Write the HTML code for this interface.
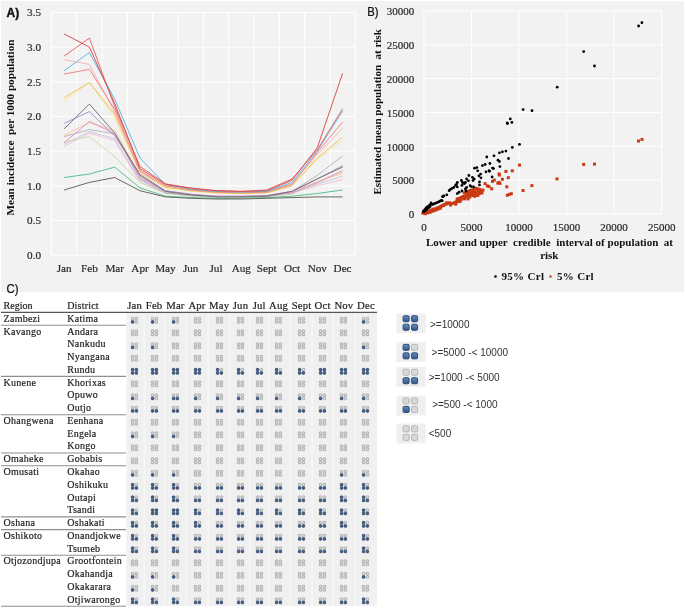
<!DOCTYPE html>
<html><head><meta charset="utf-8"><title>Figure</title>
<style>
html,body{margin:0;padding:0;background:#fff;}
body{width:685px;height:608px;position:relative;overflow:hidden;}
#bg{position:absolute;left:1px;top:1px;width:683px;height:291px;background:#f2f2f2;}
svg text{white-space:pre;}
</style></head><body>
<div id="bg"></div>
<svg width="362" height="291" viewBox="0 0 362 291" style="position:absolute;left:0;top:0"><line x1="51.4" y1="255.2" x2="355.3" y2="255.2" stroke="#ffffff" stroke-width="1"/><line x1="51.4" y1="220.5" x2="355.3" y2="220.5" stroke="#ffffff" stroke-width="1"/><line x1="51.4" y1="185.8" x2="355.3" y2="185.8" stroke="#ffffff" stroke-width="1"/><line x1="51.4" y1="151.1" x2="355.3" y2="151.1" stroke="#ffffff" stroke-width="1"/><line x1="51.4" y1="116.5" x2="355.3" y2="116.5" stroke="#ffffff" stroke-width="1"/><line x1="51.4" y1="81.8" x2="355.3" y2="81.8" stroke="#ffffff" stroke-width="1"/><line x1="51.4" y1="47.1" x2="355.3" y2="47.1" stroke="#ffffff" stroke-width="1"/><line x1="51.4" y1="12.4" x2="355.3" y2="12.4" stroke="#ffffff" stroke-width="1"/><line x1="51.4" y1="12.4" x2="51.4" y2="255.2" stroke="#ffffff" stroke-width="1"/><line x1="76.7" y1="12.4" x2="76.7" y2="255.2" stroke="#ffffff" stroke-width="1"/><line x1="102.1" y1="12.4" x2="102.1" y2="255.2" stroke="#ffffff" stroke-width="1"/><line x1="127.4" y1="12.4" x2="127.4" y2="255.2" stroke="#ffffff" stroke-width="1"/><line x1="152.7" y1="12.4" x2="152.7" y2="255.2" stroke="#ffffff" stroke-width="1"/><line x1="178.0" y1="12.4" x2="178.0" y2="255.2" stroke="#ffffff" stroke-width="1"/><line x1="203.4" y1="12.4" x2="203.4" y2="255.2" stroke="#ffffff" stroke-width="1"/><line x1="228.7" y1="12.4" x2="228.7" y2="255.2" stroke="#ffffff" stroke-width="1"/><line x1="254.0" y1="12.4" x2="254.0" y2="255.2" stroke="#ffffff" stroke-width="1"/><line x1="279.3" y1="12.4" x2="279.3" y2="255.2" stroke="#ffffff" stroke-width="1"/><line x1="304.7" y1="12.4" x2="304.7" y2="255.2" stroke="#ffffff" stroke-width="1"/><line x1="330.0" y1="12.4" x2="330.0" y2="255.2" stroke="#ffffff" stroke-width="1"/><line x1="355.3" y1="12.4" x2="355.3" y2="255.2" stroke="#ffffff" stroke-width="1"/><polyline points="64.1,146.3 89.4,133.1 114.7,140.7 140.0,182.4 165.4,192.8 190.7,195.5 216.0,196.9 241.3,196.9 266.7,196.2 292.0,192.8 317.3,185.8 342.6,179.6" fill="none" stroke="#f5c0d0" stroke-width="0.95" stroke-linejoin="round"/><polyline points="64.1,142.1 89.4,136.6 114.7,156.7 140.0,182.4 165.4,193.5 190.7,196.2 216.0,197.6 241.3,197.6 266.7,196.9 292.0,194.2 317.3,183.1 342.6,172.0" fill="none" stroke="#cdd9a8" stroke-width="0.95" stroke-linejoin="round"/><polyline points="64.1,144.2 89.4,131.7 114.7,138.7 140.0,180.3 165.4,192.8 190.7,195.5 216.0,196.9 241.3,196.9 266.7,196.2 292.0,192.8 317.3,184.4 342.6,176.1" fill="none" stroke="#c4c8e6" stroke-width="0.95" stroke-linejoin="round"/><polyline points="64.1,136.6 89.4,129.6 114.7,133.8 140.0,178.9 165.4,192.8 190.7,195.5 216.0,196.9 241.3,196.9 266.7,196.2 292.0,191.4 317.3,175.4 342.6,156.0" fill="none" stroke="#b4b4b4" stroke-width="0.95" stroke-linejoin="round"/><polyline points="64.1,135.2 89.4,122.7 114.7,130.3 140.0,175.4 165.4,190.7 190.7,194.2 216.0,196.2 241.3,196.2 266.7,195.5 292.0,191.4 317.3,181.7 342.6,173.3" fill="none" stroke="#f5c89a" stroke-width="0.95" stroke-linejoin="round"/><polyline points="64.1,142.8 89.4,121.3 114.7,133.8 140.0,177.5 165.4,191.4 190.7,194.8 216.0,196.2 241.3,196.9 266.7,196.2 292.0,192.8 317.3,182.4 342.6,170.6" fill="none" stroke="#e58ac8" stroke-width="0.95" stroke-linejoin="round"/><polyline points="64.1,123.4 89.4,111.6 114.7,135.9 140.0,174.0 165.4,190.7 190.7,194.2 216.0,196.2 241.3,196.2 266.7,195.5 292.0,191.4 317.3,178.9 342.6,165.7" fill="none" stroke="#a88ccc" stroke-width="0.95" stroke-linejoin="round"/><polyline points="64.1,128.9 89.4,104.0 114.7,133.1 140.0,175.4 165.4,191.4 190.7,194.8 216.0,196.9 241.3,196.9 266.7,196.2 292.0,191.4 317.3,178.9 342.6,167.1" fill="none" stroke="#707070" stroke-width="0.95" stroke-linejoin="round"/><polyline points="64.1,101.2 89.4,82.5 114.7,117.8 140.0,173.3 165.4,187.9 190.7,191.4 216.0,192.8 241.3,193.5 266.7,192.8 292.0,185.8 317.3,159.5 342.6,140.7" fill="none" stroke="#f0eaa0" stroke-width="0.95" stroke-linejoin="round"/><polyline points="64.1,97.7 89.4,82.5 114.7,114.4 140.0,172.0 165.4,187.2 190.7,190.7 216.0,192.8 241.3,193.5 266.7,192.8 292.0,185.8 317.3,158.1 342.6,137.3" fill="none" stroke="#f0c050" stroke-width="0.95" stroke-linejoin="round"/><polyline points="64.1,59.6 89.4,64.4 114.7,112.3 140.0,172.0 165.4,185.8 190.7,189.3 216.0,191.4 241.3,192.1 266.7,191.4 292.0,183.7 317.3,154.6 342.6,128.3" fill="none" stroke="#f4b8b0" stroke-width="0.95" stroke-linejoin="round"/><polyline points="64.1,74.1 89.4,69.3 114.7,109.5 140.0,170.6 165.4,185.8 190.7,190.0 216.0,192.1 241.3,192.8 266.7,192.1 292.0,184.4 317.3,152.5 342.6,122.0" fill="none" stroke="#f08080" stroke-width="0.95" stroke-linejoin="round"/><polyline points="64.1,70.7 89.4,52.6 114.7,99.1 140.0,158.1 165.4,184.4 190.7,189.3 216.0,191.4 241.3,192.1 266.7,191.4 292.0,182.4 317.3,151.1 342.6,110.9" fill="none" stroke="#5cb8e0" stroke-width="0.95" stroke-linejoin="round"/><polyline points="64.1,56.1 89.4,38.1 114.7,106.7 140.0,166.4 165.4,183.7 190.7,188.6 216.0,190.7 241.3,191.4 266.7,190.0 292.0,178.9 317.3,149.8 342.6,108.8" fill="none" stroke="#e86060" stroke-width="0.95" stroke-linejoin="round"/><polyline points="64.1,33.9 89.4,47.1 114.7,103.3 140.0,168.5 165.4,184.4 190.7,187.9 216.0,190.7 241.3,191.4 266.7,190.7 292.0,180.3 317.3,147.7 342.6,73.4" fill="none" stroke="#d64b4b" stroke-width="0.95" stroke-linejoin="round"/><polyline points="64.1,177.5 89.4,174.0 114.7,167.1 140.0,187.9 165.4,196.2 190.7,197.6 216.0,198.3 241.3,198.3 266.7,197.6 292.0,196.2 317.3,193.5 342.6,190.0" fill="none" stroke="#50c08a" stroke-width="0.95" stroke-linejoin="round"/><polyline points="64.1,190.0 89.4,182.4 114.7,177.5 140.0,190.7 165.4,196.9 190.7,198.3 216.0,199.0 241.3,199.0 266.7,198.3 292.0,197.6 317.3,196.9 342.6,196.9" fill="none" stroke="#606058" stroke-width="0.95" stroke-linejoin="round"/><text x="41.1" y="258.9" text-anchor="end" font-family='"Liberation Serif", "Times New Roman", serif' font-size="11.2" fill="#2a2a2a" stroke="#2a2a2a" stroke-width="0.2">0.0</text><text x="41.1" y="224.2" text-anchor="end" font-family='"Liberation Serif", "Times New Roman", serif' font-size="11.2" fill="#2a2a2a" stroke="#2a2a2a" stroke-width="0.2">0.5</text><text x="41.1" y="189.5" text-anchor="end" font-family='"Liberation Serif", "Times New Roman", serif' font-size="11.2" fill="#2a2a2a" stroke="#2a2a2a" stroke-width="0.2">1.0</text><text x="41.1" y="154.8" text-anchor="end" font-family='"Liberation Serif", "Times New Roman", serif' font-size="11.2" fill="#2a2a2a" stroke="#2a2a2a" stroke-width="0.2">1.5</text><text x="41.1" y="120.2" text-anchor="end" font-family='"Liberation Serif", "Times New Roman", serif' font-size="11.2" fill="#2a2a2a" stroke="#2a2a2a" stroke-width="0.2">2.0</text><text x="41.1" y="85.5" text-anchor="end" font-family='"Liberation Serif", "Times New Roman", serif' font-size="11.2" fill="#2a2a2a" stroke="#2a2a2a" stroke-width="0.2">2.5</text><text x="41.1" y="50.8" text-anchor="end" font-family='"Liberation Serif", "Times New Roman", serif' font-size="11.2" fill="#2a2a2a" stroke="#2a2a2a" stroke-width="0.2">3.0</text><text x="41.1" y="16.1" text-anchor="end" font-family='"Liberation Serif", "Times New Roman", serif' font-size="11.2" fill="#2a2a2a" stroke="#2a2a2a" stroke-width="0.2">3.5</text><text x="64.1" y="272" text-anchor="middle" font-family='"Liberation Serif", "Times New Roman", serif' font-size="11.2" fill="#2a2a2a" stroke="#2a2a2a" stroke-width="0.2">Jan</text><text x="89.4" y="272" text-anchor="middle" font-family='"Liberation Serif", "Times New Roman", serif' font-size="11.2" fill="#2a2a2a" stroke="#2a2a2a" stroke-width="0.2">Feb</text><text x="114.7" y="272" text-anchor="middle" font-family='"Liberation Serif", "Times New Roman", serif' font-size="11.2" fill="#2a2a2a" stroke="#2a2a2a" stroke-width="0.2">Mar</text><text x="140.0" y="272" text-anchor="middle" font-family='"Liberation Serif", "Times New Roman", serif' font-size="11.2" fill="#2a2a2a" stroke="#2a2a2a" stroke-width="0.2">Apr</text><text x="165.4" y="272" text-anchor="middle" font-family='"Liberation Serif", "Times New Roman", serif' font-size="11.2" fill="#2a2a2a" stroke="#2a2a2a" stroke-width="0.2">May</text><text x="190.7" y="272" text-anchor="middle" font-family='"Liberation Serif", "Times New Roman", serif' font-size="11.2" fill="#2a2a2a" stroke="#2a2a2a" stroke-width="0.2">Jun</text><text x="216.0" y="272" text-anchor="middle" font-family='"Liberation Serif", "Times New Roman", serif' font-size="11.2" fill="#2a2a2a" stroke="#2a2a2a" stroke-width="0.2">Jul</text><text x="241.3" y="272" text-anchor="middle" font-family='"Liberation Serif", "Times New Roman", serif' font-size="11.2" fill="#2a2a2a" stroke="#2a2a2a" stroke-width="0.2">Aug</text><text x="266.7" y="272" text-anchor="middle" font-family='"Liberation Serif", "Times New Roman", serif' font-size="11.2" fill="#2a2a2a" stroke="#2a2a2a" stroke-width="0.2">Sept</text><text x="292.0" y="272" text-anchor="middle" font-family='"Liberation Serif", "Times New Roman", serif' font-size="11.2" fill="#2a2a2a" stroke="#2a2a2a" stroke-width="0.2">Oct</text><text x="317.3" y="272" text-anchor="middle" font-family='"Liberation Serif", "Times New Roman", serif' font-size="11.2" fill="#2a2a2a" stroke="#2a2a2a" stroke-width="0.2">Nov</text><text x="342.6" y="272" text-anchor="middle" font-family='"Liberation Serif", "Times New Roman", serif' font-size="11.2" fill="#2a2a2a" stroke="#2a2a2a" stroke-width="0.2">Dec</text><text transform="translate(14.4,127.5) rotate(-90)" text-anchor="middle" font-family='"Liberation Serif", "Times New Roman", serif' font-weight="bold" font-size="11.2" fill="#111">Mean incidence  per 1000 population</text><text transform="translate(6.6,16.9) scale(0.98,1)" font-family='"Liberation Sans", Arial, sans-serif' font-weight="bold" font-size="12.2" fill="#111" stroke="#111" stroke-width="0.35">A)</text></svg>
<svg width="323" height="291" viewBox="362 0 323 291" style="position:absolute;left:362px;top:0"><line x1="423.9" y1="214.0" x2="661.7" y2="214.0" stroke="#ffffff" stroke-width="1"/><line x1="423.9" y1="180.2" x2="661.7" y2="180.2" stroke="#ffffff" stroke-width="1"/><line x1="423.9" y1="146.4" x2="661.7" y2="146.4" stroke="#ffffff" stroke-width="1"/><line x1="423.9" y1="112.5" x2="661.7" y2="112.5" stroke="#ffffff" stroke-width="1"/><line x1="423.9" y1="78.7" x2="661.7" y2="78.7" stroke="#ffffff" stroke-width="1"/><line x1="423.9" y1="44.9" x2="661.7" y2="44.9" stroke="#ffffff" stroke-width="1"/><line x1="423.9" y1="11.1" x2="661.7" y2="11.1" stroke="#ffffff" stroke-width="1"/><line x1="423.9" y1="11.1" x2="423.9" y2="214.0" stroke="#ffffff" stroke-width="1"/><line x1="471.5" y1="11.1" x2="471.5" y2="214.0" stroke="#ffffff" stroke-width="1"/><line x1="519.0" y1="11.1" x2="519.0" y2="214.0" stroke="#ffffff" stroke-width="1"/><line x1="566.6" y1="11.1" x2="566.6" y2="214.0" stroke="#ffffff" stroke-width="1"/><line x1="614.1" y1="11.1" x2="614.1" y2="214.0" stroke="#ffffff" stroke-width="1"/><line x1="661.7" y1="11.1" x2="661.7" y2="214.0" stroke="#ffffff" stroke-width="1"/><rect x="637.0" y="139.5" width="3" height="3" fill="#c83a14"/><rect x="640.5" y="137.9" width="3" height="3" fill="#c83a14"/><rect x="582.2" y="162.9" width="3" height="3" fill="#c83a14"/><rect x="593.0" y="162.6" width="3" height="3" fill="#c83a14"/><rect x="555.5" y="177.4" width="3" height="3" fill="#c83a14"/><rect x="530.4" y="184.1" width="3" height="3" fill="#c83a14"/><rect x="521.6" y="189.0" width="3" height="3" fill="#c83a14"/><rect x="518.0" y="163.6" width="3" height="3" fill="#c83a14"/><rect x="510.8" y="169.3" width="3" height="3" fill="#c83a14"/><rect x="504.4" y="169.9" width="3" height="3" fill="#c83a14"/><rect x="497.9" y="173.5" width="3" height="3" fill="#c83a14"/><rect x="506.8" y="176.2" width="3" height="3" fill="#c83a14"/><rect x="500.9" y="177.8" width="3" height="3" fill="#c83a14"/><rect x="497.5" y="180.9" width="3" height="3" fill="#c83a14"/><rect x="498.4" y="181.9" width="3" height="3" fill="#c83a14"/><rect x="505.3" y="185.3" width="3" height="3" fill="#c83a14"/><rect x="505.8" y="193.7" width="3" height="3" fill="#c83a14"/><rect x="507.8" y="192.9" width="3" height="3" fill="#c83a14"/><rect x="509.8" y="192.2" width="3" height="3" fill="#c83a14"/><rect x="497.6" y="172.4" width="3" height="3" fill="#c83a14"/><rect x="491.0" y="179.9" width="3" height="3" fill="#c83a14"/><rect x="492.8" y="178.6" width="3" height="3" fill="#c83a14"/><rect x="496.3" y="181.6" width="3" height="3" fill="#c83a14"/><rect x="483.6" y="182.1" width="3" height="3" fill="#c83a14"/><rect x="485.8" y="184.3" width="3" height="3" fill="#c83a14"/><rect x="487.5" y="185.1" width="3" height="3" fill="#c83a14"/><rect x="490.2" y="187.3" width="3" height="3" fill="#c83a14"/><rect x="475.3" y="187.3" width="3" height="3" fill="#c83a14"/><rect x="477.5" y="189.1" width="3" height="3" fill="#c83a14"/><rect x="479.7" y="190.0" width="3" height="3" fill="#c83a14"/><rect x="477.9" y="192.1" width="3" height="3" fill="#c83a14"/><rect x="476.2" y="193.9" width="3" height="3" fill="#c83a14"/><rect x="471.8" y="189.5" width="3" height="3" fill="#c83a14"/><rect x="470.9" y="191.7" width="3" height="3" fill="#c83a14"/><rect x="470.5" y="193.9" width="3" height="3" fill="#c83a14"/><rect x="468.3" y="195.6" width="3" height="3" fill="#c83a14"/><rect x="465.6" y="193.9" width="3" height="3" fill="#c83a14"/><rect x="464.3" y="195.6" width="3" height="3" fill="#c83a14"/><rect x="463.0" y="197.4" width="3" height="3" fill="#c83a14"/><rect x="461.3" y="196.5" width="3" height="3" fill="#c83a14"/><rect x="459.5" y="198.3" width="3" height="3" fill="#c83a14"/><rect x="457.3" y="199.6" width="3" height="3" fill="#c83a14"/><rect x="456.0" y="197.4" width="3" height="3" fill="#c83a14"/><rect x="455.1" y="200.5" width="3" height="3" fill="#c83a14"/><rect x="453.4" y="200.9" width="3" height="3" fill="#c83a14"/><rect x="451.6" y="201.8" width="3" height="3" fill="#c83a14"/><rect x="449.9" y="202.2" width="3" height="3" fill="#c83a14"/><rect x="448.1" y="201.3" width="3" height="3" fill="#c83a14"/><rect x="446.4" y="201.8" width="3" height="3" fill="#c83a14"/><rect x="444.6" y="202.7" width="3" height="3" fill="#c83a14"/><rect x="442.9" y="203.1" width="3" height="3" fill="#c83a14"/><rect x="441.1" y="204.0" width="3" height="3" fill="#c83a14"/><rect x="439.4" y="204.8" width="3" height="3" fill="#c83a14"/><rect x="449.0" y="203.5" width="3" height="3" fill="#c83a14"/><rect x="454.3" y="202.7" width="3" height="3" fill="#c83a14"/><rect x="458.6" y="200.0" width="3" height="3" fill="#c83a14"/><rect x="466.5" y="197.4" width="3" height="3" fill="#c83a14"/><rect x="474.4" y="192.1" width="3" height="3" fill="#c83a14"/><rect x="473.1" y="194.8" width="3" height="3" fill="#c83a14"/><rect x="421.4" y="211.7" width="3" height="3" fill="#c83a14"/><rect x="422.4" y="211.2" width="3" height="3" fill="#c83a14"/><rect x="424.4" y="210.2" width="3" height="3" fill="#c83a14"/><rect x="426.4" y="209.7" width="3" height="3" fill="#c83a14"/><rect x="428.8" y="208.7" width="3" height="3" fill="#c83a14"/><rect x="431.3" y="207.7" width="3" height="3" fill="#c83a14"/><rect x="433.8" y="207.2" width="3" height="3" fill="#c83a14"/><rect x="436.2" y="206.2" width="3" height="3" fill="#c83a14"/><rect x="438.7" y="205.5" width="3" height="3" fill="#c83a14"/><rect x="441.2" y="204.3" width="3" height="3" fill="#c83a14"/><rect x="442.2" y="203.8" width="3" height="3" fill="#c83a14"/><rect x="445.1" y="201.3" width="3" height="3" fill="#c83a14"/><rect x="423.9" y="212.2" width="3" height="3" fill="#c83a14"/><rect x="426.4" y="211.4" width="3" height="3" fill="#c83a14"/><rect x="428.8" y="210.7" width="3" height="3" fill="#c83a14"/><rect x="431.3" y="209.7" width="3" height="3" fill="#c83a14"/><rect x="433.8" y="208.8" width="3" height="3" fill="#c83a14"/><rect x="436.2" y="207.8" width="3" height="3" fill="#c83a14"/><rect x="438.7" y="206.8" width="3" height="3" fill="#c83a14"/><rect x="462.8" y="191.5" width="3" height="3" fill="#c83a14"/><rect x="464.5" y="190.5" width="3" height="3" fill="#c83a14"/><rect x="466.5" y="190.0" width="3" height="3" fill="#c83a14"/><rect x="468.5" y="189.0" width="3" height="3" fill="#c83a14"/><rect x="470.5" y="188.5" width="3" height="3" fill="#c83a14"/><rect x="472.5" y="188.0" width="3" height="3" fill="#c83a14"/><rect x="475.0" y="186.9" width="3" height="3" fill="#c83a14"/><rect x="476.5" y="187.5" width="3" height="3" fill="#c83a14"/><rect x="478.5" y="188.0" width="3" height="3" fill="#c83a14"/><rect x="481.5" y="188.6" width="3" height="3" fill="#c83a14"/><rect x="464.5" y="193.5" width="3" height="3" fill="#c83a14"/><rect x="466.5" y="192.5" width="3" height="3" fill="#c83a14"/><rect x="468.5" y="192.0" width="3" height="3" fill="#c83a14"/><rect x="470.5" y="191.5" width="3" height="3" fill="#c83a14"/><rect x="472.5" y="191.0" width="3" height="3" fill="#c83a14"/><rect x="474.5" y="190.5" width="3" height="3" fill="#c83a14"/><rect x="476.5" y="190.5" width="3" height="3" fill="#c83a14"/><rect x="478.5" y="191.0" width="3" height="3" fill="#c83a14"/><rect x="480.5" y="191.5" width="3" height="3" fill="#c83a14"/><rect x="455.5" y="198.0" width="3" height="3" fill="#c83a14"/><rect x="457.5" y="197.0" width="3" height="3" fill="#c83a14"/><rect x="459.5" y="196.0" width="3" height="3" fill="#c83a14"/><rect x="461.5" y="195.0" width="3" height="3" fill="#c83a14"/><rect x="463.5" y="195.0" width="3" height="3" fill="#c83a14"/><rect x="465.5" y="194.5" width="3" height="3" fill="#c83a14"/><rect x="467.5" y="194.0" width="3" height="3" fill="#c83a14"/><rect x="469.5" y="194.0" width="3" height="3" fill="#c83a14"/><rect x="471.5" y="194.0" width="3" height="3" fill="#c83a14"/><rect x="473.5" y="194.0" width="3" height="3" fill="#c83a14"/><rect x="476.2" y="193.9" width="3" height="3" fill="#c83a14"/><circle cx="638.6" cy="26.0" r="1.4" fill="#000"/><circle cx="641.9" cy="22.7" r="1.4" fill="#000"/><circle cx="583.7" cy="51.6" r="1.4" fill="#000"/><circle cx="594.5" cy="66.0" r="1.4" fill="#000"/><circle cx="557.2" cy="87.2" r="1.4" fill="#000"/><circle cx="523.1" cy="109.6" r="1.4" fill="#000"/><circle cx="532.0" cy="110.7" r="1.4" fill="#000"/><circle cx="507.2" cy="123.0" r="1.4" fill="#000"/><circle cx="510.3" cy="118.9" r="1.4" fill="#000"/><circle cx="511.9" cy="122.4" r="1.4" fill="#000"/><circle cx="507.5" cy="123.6" r="1.4" fill="#000"/><circle cx="519.5" cy="144.4" r="1.4" fill="#000"/><circle cx="512.3" cy="147.4" r="1.4" fill="#000"/><circle cx="505.9" cy="151.1" r="1.4" fill="#000"/><circle cx="502.4" cy="151.8" r="1.4" fill="#000"/><circle cx="499.4" cy="152.8" r="1.4" fill="#000"/><circle cx="494.0" cy="155.8" r="1.4" fill="#000"/><circle cx="486.8" cy="157.0" r="1.4" fill="#000"/><circle cx="508.5" cy="158.5" r="1.4" fill="#000"/><circle cx="498.0" cy="160.2" r="1.4" fill="#000"/><circle cx="499.4" cy="161.5" r="1.4" fill="#000"/><circle cx="489.9" cy="163.5" r="1.4" fill="#000"/><circle cx="485.1" cy="164.5" r="1.4" fill="#000"/><circle cx="499.9" cy="166.6" r="1.4" fill="#000"/><circle cx="493.5" cy="168.6" r="1.4" fill="#000"/><circle cx="492.5" cy="168.1" r="1.4" fill="#000"/><circle cx="489.1" cy="170.6" r="1.4" fill="#000"/><circle cx="486.0" cy="171.8" r="1.4" fill="#000"/><circle cx="489.5" cy="171.3" r="1.4" fill="#000"/><circle cx="492.1" cy="177.0" r="1.4" fill="#000"/><circle cx="443.9" cy="195.8" r="1.4" fill="#000"/><circle cx="442.6" cy="196.7" r="1.4" fill="#000"/><circle cx="440.9" cy="200.6" r="1.4" fill="#000"/><circle cx="442.9" cy="196.6" r="1.4" fill="#000"/><circle cx="423.4" cy="211.2" r="1.4" fill="#000"/><circle cx="424.4" cy="210.2" r="1.4" fill="#000"/><circle cx="425.4" cy="209.0" r="1.4" fill="#000"/><circle cx="426.4" cy="207.7" r="1.4" fill="#000"/><circle cx="427.4" cy="207.0" r="1.4" fill="#000"/><circle cx="428.4" cy="206.3" r="1.4" fill="#000"/><circle cx="429.7" cy="205.0" r="1.4" fill="#000"/><circle cx="431.1" cy="203.0" r="1.4" fill="#000"/><circle cx="432.0" cy="204.5" r="1.4" fill="#000"/><circle cx="432.8" cy="204.3" r="1.4" fill="#000"/><circle cx="434.0" cy="203.8" r="1.4" fill="#000"/><circle cx="435.3" cy="203.3" r="1.4" fill="#000"/><circle cx="436.5" cy="202.8" r="1.4" fill="#000"/><circle cx="437.7" cy="202.3" r="1.4" fill="#000"/><circle cx="439.0" cy="201.7" r="1.4" fill="#000"/><circle cx="440.2" cy="201.1" r="1.4" fill="#000"/><circle cx="441.7" cy="200.6" r="1.4" fill="#000"/><circle cx="442.2" cy="200.8" r="1.4" fill="#000"/><circle cx="424.0" cy="211.8" r="1.4" fill="#000"/><circle cx="425.5" cy="210.5" r="1.4" fill="#000"/><circle cx="427.0" cy="209.0" r="1.4" fill="#000"/><circle cx="428.5" cy="207.8" r="1.4" fill="#000"/><circle cx="430.0" cy="206.5" r="1.4" fill="#000"/><circle cx="482.4" cy="165.6" r="1.4" fill="#000"/><circle cx="474.5" cy="168.2" r="1.4" fill="#000"/><circle cx="476.8" cy="167.6" r="1.4" fill="#000"/><circle cx="477.7" cy="170.8" r="1.4" fill="#000"/><circle cx="480.6" cy="174.1" r="1.4" fill="#000"/><circle cx="478.9" cy="175.8" r="1.4" fill="#000"/><circle cx="480.9" cy="177.8" r="1.4" fill="#000"/><circle cx="479.5" cy="181.9" r="1.4" fill="#000"/><circle cx="479.5" cy="184.9" r="1.4" fill="#000"/><circle cx="468.9" cy="175.5" r="1.4" fill="#000"/><circle cx="472.4" cy="177.3" r="1.4" fill="#000"/><circle cx="474.2" cy="179.0" r="1.4" fill="#000"/><circle cx="473.0" cy="180.5" r="1.4" fill="#000"/><circle cx="466.6" cy="179.0" r="1.4" fill="#000"/><circle cx="468.4" cy="180.8" r="1.4" fill="#000"/><circle cx="465.4" cy="182.5" r="1.4" fill="#000"/><circle cx="464.3" cy="183.7" r="1.4" fill="#000"/><circle cx="461.4" cy="180.5" r="1.4" fill="#000"/><circle cx="462.5" cy="182.5" r="1.4" fill="#000"/><circle cx="461.9" cy="185.4" r="1.4" fill="#000"/><circle cx="457.3" cy="182.5" r="1.4" fill="#000"/><circle cx="456.4" cy="184.3" r="1.4" fill="#000"/><circle cx="455.5" cy="185.4" r="1.4" fill="#000"/><circle cx="457.3" cy="186.9" r="1.4" fill="#000"/><circle cx="453.8" cy="187.5" r="1.4" fill="#000"/><circle cx="452.0" cy="188.4" r="1.4" fill="#000"/><circle cx="450.3" cy="189.5" r="1.4" fill="#000"/><circle cx="449.1" cy="190.7" r="1.4" fill="#000"/><circle cx="470.1" cy="185.7" r="1.4" fill="#000"/><circle cx="471.3" cy="186.6" r="1.4" fill="#000"/><circle cx="473.6" cy="186.9" r="1.4" fill="#000"/><circle cx="466.6" cy="187.5" r="1.4" fill="#000"/><circle cx="465.4" cy="188.9" r="1.4" fill="#000"/><circle cx="466.0" cy="191.0" r="1.4" fill="#000"/><circle cx="461.9" cy="191.0" r="1.4" fill="#000"/><circle cx="459.0" cy="192.2" r="1.4" fill="#000"/><circle cx="457.3" cy="193.6" r="1.4" fill="#000"/><circle cx="446.8" cy="194.8" r="1.4" fill="#000"/><text x="414.2" y="218.1" text-anchor="end" font-family='"Liberation Serif", "Times New Roman", serif' font-size="11" fill="#2a2a2a" stroke="#2a2a2a" stroke-width="0.2">0</text><text x="414.2" y="184.3" text-anchor="end" font-family='"Liberation Serif", "Times New Roman", serif' font-size="11" fill="#2a2a2a" stroke="#2a2a2a" stroke-width="0.2">5000</text><text x="414.2" y="150.5" text-anchor="end" font-family='"Liberation Serif", "Times New Roman", serif' font-size="11" fill="#2a2a2a" stroke="#2a2a2a" stroke-width="0.2">10000</text><text x="414.2" y="116.6" text-anchor="end" font-family='"Liberation Serif", "Times New Roman", serif' font-size="11" fill="#2a2a2a" stroke="#2a2a2a" stroke-width="0.2">15000</text><text x="414.2" y="82.8" text-anchor="end" font-family='"Liberation Serif", "Times New Roman", serif' font-size="11" fill="#2a2a2a" stroke="#2a2a2a" stroke-width="0.2">20000</text><text x="414.2" y="49.0" text-anchor="end" font-family='"Liberation Serif", "Times New Roman", serif' font-size="11" fill="#2a2a2a" stroke="#2a2a2a" stroke-width="0.2">25000</text><text x="414.2" y="15.2" text-anchor="end" font-family='"Liberation Serif", "Times New Roman", serif' font-size="11" fill="#2a2a2a" stroke="#2a2a2a" stroke-width="0.2">30000</text><text x="423.9" y="230.7" text-anchor="middle" font-family='"Liberation Serif", "Times New Roman", serif' font-size="11" fill="#2a2a2a" stroke="#2a2a2a" stroke-width="0.2">0</text><text x="471.5" y="230.7" text-anchor="middle" font-family='"Liberation Serif", "Times New Roman", serif' font-size="11" fill="#2a2a2a" stroke="#2a2a2a" stroke-width="0.2">5000</text><text x="519.0" y="230.7" text-anchor="middle" font-family='"Liberation Serif", "Times New Roman", serif' font-size="11" fill="#2a2a2a" stroke="#2a2a2a" stroke-width="0.2">10000</text><text x="566.6" y="230.7" text-anchor="middle" font-family='"Liberation Serif", "Times New Roman", serif' font-size="11" fill="#2a2a2a" stroke="#2a2a2a" stroke-width="0.2">15000</text><text x="614.1" y="230.7" text-anchor="middle" font-family='"Liberation Serif", "Times New Roman", serif' font-size="11" fill="#2a2a2a" stroke="#2a2a2a" stroke-width="0.2">20000</text><text x="661.7" y="230.7" text-anchor="middle" font-family='"Liberation Serif", "Times New Roman", serif' font-size="11" fill="#2a2a2a" stroke="#2a2a2a" stroke-width="0.2">25000</text><text x="549.5" y="246.3" text-anchor="middle" font-family='"Liberation Serif", "Times New Roman", serif' font-weight="bold" font-size="11" fill="#111" xml:space="preserve">Lower and upper  credible  interval of population  at</text><text x="549.3" y="259" text-anchor="middle" font-family='"Liberation Serif", "Times New Roman", serif' font-weight="bold" font-size="11" fill="#111">risk</text><text transform="translate(381,111.9) rotate(-90)" text-anchor="middle" font-family='"Liberation Serif", "Times New Roman", serif' font-weight="bold" font-size="11" fill="#111" xml:space="preserve">Estimated mean population  at risk</text><circle cx="495.5" cy="276.5" r="1.3" fill="#000"/><text x="501.5" y="279.7" font-family='"Liberation Serif", "Times New Roman", serif' font-weight="bold" font-size="11" letter-spacing="0.3" fill="#111">95% Crl</text><rect x="549.4" y="275.4" width="2.2" height="2.2" fill="#d42a20"/><text x="557" y="279.7" font-family='"Liberation Serif", "Times New Roman", serif' font-weight="bold" font-size="11" letter-spacing="0.3" fill="#111">5% Crl</text><text transform="translate(367.3,15.8) scale(0.93,1)" font-family='"Liberation Sans", Arial, sans-serif' font-size="12.2" fill="#111" stroke="#111" stroke-width="0.25">B)</text></svg>
<svg width="685" height="328" viewBox="0 280 685 328" style="position:absolute;left:0;top:280px"><style>.sb{fill:#46638f;stroke:#2a4265;stroke-width:0.8}.sg{fill:#e0e0e0;stroke:#a2a2a2;stroke-width:0.8}.Lb{fill:url(#gb);stroke:#274a78;stroke-width:1}.Lg{fill:#d9d9d9;stroke:#b5b5b5;stroke-width:1}</style><defs><linearGradient id="gb" x1="0" y1="0" x2="0" y2="1"><stop offset="0" stop-color="#6a8fc0"/><stop offset="1" stop-color="#2f5488"/></linearGradient></defs><rect x="126.5" y="313" width="250.5" height="293" fill="#f0f0f0"/><rect x="143.4" y="313" width="1.8" height="293" fill="#f6f6f6"/><rect x="163.8" y="313" width="1.8" height="293" fill="#f6f6f6"/><rect x="185.3" y="313" width="1.8" height="293" fill="#f6f6f6"/><rect x="207.2" y="313" width="1.8" height="293" fill="#f6f6f6"/><rect x="228.9" y="313" width="1.8" height="293" fill="#f6f6f6"/><rect x="248.9" y="313" width="1.8" height="293" fill="#f6f6f6"/><rect x="268.0" y="313" width="1.8" height="293" fill="#f6f6f6"/><rect x="289.2" y="313" width="1.8" height="293" fill="#f6f6f6"/><rect x="311.2" y="313" width="1.8" height="293" fill="#f6f6f6"/><rect x="332.4" y="313" width="1.8" height="293" fill="#f6f6f6"/><rect x="354.1" y="313" width="1.8" height="293" fill="#f6f6f6"/><text x="3.6" y="309.2" font-family='"Liberation Serif", "Times New Roman", serif' font-size="10" fill="#1e1e1e" stroke="#1e1e1e" stroke-width="0.2">Region</text><text x="67.2" y="309.2" font-family='"Liberation Serif", "Times New Roman", serif' font-size="10" letter-spacing="0.2" fill="#1e1e1e" stroke="#1e1e1e" stroke-width="0.2">District</text><text x="134.6" y="309.2" text-anchor="middle" font-family='"Liberation Serif", "Times New Roman", serif' font-size="10.7" letter-spacing="0.2" fill="#1e1e1e" stroke="#1e1e1e" stroke-width="0.2">Jan</text><text x="154.1" y="309.2" text-anchor="middle" font-family='"Liberation Serif", "Times New Roman", serif' font-size="10.7" letter-spacing="0.2" fill="#1e1e1e" stroke="#1e1e1e" stroke-width="0.2">Feb</text><text x="175.4" y="309.2" text-anchor="middle" font-family='"Liberation Serif", "Times New Roman", serif' font-size="10.7" letter-spacing="0.2" fill="#1e1e1e" stroke="#1e1e1e" stroke-width="0.2">Mar</text><text x="197.0" y="309.2" text-anchor="middle" font-family='"Liberation Serif", "Times New Roman", serif' font-size="10.7" letter-spacing="0.2" fill="#1e1e1e" stroke="#1e1e1e" stroke-width="0.2">Apr</text><text x="219.2" y="309.2" text-anchor="middle" font-family='"Liberation Serif", "Times New Roman", serif' font-size="10.7" letter-spacing="0.2" fill="#1e1e1e" stroke="#1e1e1e" stroke-width="0.2">May</text><text x="240.5" y="309.2" text-anchor="middle" font-family='"Liberation Serif", "Times New Roman", serif' font-size="10.7" letter-spacing="0.2" fill="#1e1e1e" stroke="#1e1e1e" stroke-width="0.2">Jun</text><text x="259.2" y="309.2" text-anchor="middle" font-family='"Liberation Serif", "Times New Roman", serif' font-size="10.7" letter-spacing="0.2" fill="#1e1e1e" stroke="#1e1e1e" stroke-width="0.2">Jul</text><text x="278.6" y="309.2" text-anchor="middle" font-family='"Liberation Serif", "Times New Roman", serif' font-size="10.7" letter-spacing="0.2" fill="#1e1e1e" stroke="#1e1e1e" stroke-width="0.2">Aug</text><text x="301.6" y="309.2" text-anchor="middle" font-family='"Liberation Serif", "Times New Roman", serif' font-size="10.7" letter-spacing="0.2" fill="#1e1e1e" stroke="#1e1e1e" stroke-width="0.2">Sept</text><text x="322.6" y="309.2" text-anchor="middle" font-family='"Liberation Serif", "Times New Roman", serif' font-size="10.7" letter-spacing="0.2" fill="#1e1e1e" stroke="#1e1e1e" stroke-width="0.2">Oct</text><text x="343.9" y="309.2" text-anchor="middle" font-family='"Liberation Serif", "Times New Roman", serif' font-size="10.7" letter-spacing="0.2" fill="#1e1e1e" stroke="#1e1e1e" stroke-width="0.2">Nov</text><text x="366.0" y="309.2" text-anchor="middle" font-family='"Liberation Serif", "Times New Roman", serif' font-size="10.7" letter-spacing="0.2" fill="#1e1e1e" stroke="#1e1e1e" stroke-width="0.2">Dec</text><line x1="1" y1="312.3" x2="377" y2="312.3" stroke="#555" stroke-width="1.2"/><text x="3.6" y="321.7" font-family='"Liberation Serif", "Times New Roman", serif' font-size="10" letter-spacing="0.25" fill="#1e1e1e" stroke="#1e1e1e" stroke-width="0.2">Zambezi</text><text x="67.3" y="321.7" font-family='"Liberation Serif", "Times New Roman", serif' font-size="10" letter-spacing="0.25" fill="#1e1e1e" stroke="#1e1e1e" stroke-width="0.2">Katima</text><rect class="sg" x="131.40" y="317.40" width="2.40" height="2.50" rx="0.4"/><rect class="sg" x="135.20" y="317.40" width="2.40" height="2.50" rx="0.4"/><rect class="sb" x="131.40" y="320.70" width="2.40" height="2.50" rx="0.4"/><rect class="sg" x="135.20" y="320.70" width="2.40" height="2.50" rx="0.4"/><rect class="sg" x="151.40" y="317.40" width="2.40" height="2.50" rx="0.4"/><rect class="sg" x="155.20" y="317.40" width="2.40" height="2.50" rx="0.4"/><rect class="sb" x="151.40" y="320.70" width="2.40" height="2.50" rx="0.4"/><rect class="sg" x="155.20" y="320.70" width="2.40" height="2.50" rx="0.4"/><rect class="sg" x="172.40" y="317.40" width="2.40" height="2.50" rx="0.4"/><rect class="sg" x="176.20" y="317.40" width="2.40" height="2.50" rx="0.4"/><rect class="sb" x="172.40" y="320.70" width="2.40" height="2.50" rx="0.4"/><rect class="sg" x="176.20" y="320.70" width="2.40" height="2.50" rx="0.4"/><rect class="sg" x="194.40" y="317.40" width="2.40" height="2.50" rx="0.4"/><rect class="sg" x="198.20" y="317.40" width="2.40" height="2.50" rx="0.4"/><rect class="sg" x="194.40" y="320.70" width="2.40" height="2.50" rx="0.4"/><rect class="sg" x="198.20" y="320.70" width="2.40" height="2.50" rx="0.4"/><rect class="sg" x="216.40" y="317.40" width="2.40" height="2.50" rx="0.4"/><rect class="sg" x="220.20" y="317.40" width="2.40" height="2.50" rx="0.4"/><rect class="sg" x="216.40" y="320.70" width="2.40" height="2.50" rx="0.4"/><rect class="sg" x="220.20" y="320.70" width="2.40" height="2.50" rx="0.4"/><rect class="sg" x="237.40" y="317.40" width="2.40" height="2.50" rx="0.4"/><rect class="sg" x="241.20" y="317.40" width="2.40" height="2.50" rx="0.4"/><rect class="sg" x="237.40" y="320.70" width="2.40" height="2.50" rx="0.4"/><rect class="sg" x="241.20" y="320.70" width="2.40" height="2.50" rx="0.4"/><rect class="sg" x="256.40" y="317.40" width="2.40" height="2.50" rx="0.4"/><rect class="sg" x="260.20" y="317.40" width="2.40" height="2.50" rx="0.4"/><rect class="sg" x="256.40" y="320.70" width="2.40" height="2.50" rx="0.4"/><rect class="sg" x="260.20" y="320.70" width="2.40" height="2.50" rx="0.4"/><rect class="sg" x="275.40" y="317.40" width="2.40" height="2.50" rx="0.4"/><rect class="sg" x="279.20" y="317.40" width="2.40" height="2.50" rx="0.4"/><rect class="sg" x="275.40" y="320.70" width="2.40" height="2.50" rx="0.4"/><rect class="sg" x="279.20" y="320.70" width="2.40" height="2.50" rx="0.4"/><rect class="sg" x="298.40" y="317.40" width="2.40" height="2.50" rx="0.4"/><rect class="sg" x="302.20" y="317.40" width="2.40" height="2.50" rx="0.4"/><rect class="sg" x="298.40" y="320.70" width="2.40" height="2.50" rx="0.4"/><rect class="sg" x="302.20" y="320.70" width="2.40" height="2.50" rx="0.4"/><rect class="sg" x="319.40" y="317.40" width="2.40" height="2.50" rx="0.4"/><rect class="sg" x="323.20" y="317.40" width="2.40" height="2.50" rx="0.4"/><rect class="sg" x="319.40" y="320.70" width="2.40" height="2.50" rx="0.4"/><rect class="sg" x="323.20" y="320.70" width="2.40" height="2.50" rx="0.4"/><rect class="sg" x="340.40" y="317.40" width="2.40" height="2.50" rx="0.4"/><rect class="sg" x="344.20" y="317.40" width="2.40" height="2.50" rx="0.4"/><rect class="sg" x="340.40" y="320.70" width="2.40" height="2.50" rx="0.4"/><rect class="sg" x="344.20" y="320.70" width="2.40" height="2.50" rx="0.4"/><rect class="sg" x="362.40" y="317.40" width="2.40" height="2.50" rx="0.4"/><rect class="sg" x="366.20" y="317.40" width="2.40" height="2.50" rx="0.4"/><rect class="sb" x="362.40" y="320.70" width="2.40" height="2.50" rx="0.4"/><rect class="sg" x="366.20" y="320.70" width="2.40" height="2.50" rx="0.4"/><text x="3.6" y="334.5" font-family='"Liberation Serif", "Times New Roman", serif' font-size="10" letter-spacing="0.25" fill="#1e1e1e" stroke="#1e1e1e" stroke-width="0.2">Kavango</text><text x="67.3" y="334.5" font-family='"Liberation Serif", "Times New Roman", serif' font-size="10" letter-spacing="0.25" fill="#1e1e1e" stroke="#1e1e1e" stroke-width="0.2">Andara</text><rect class="sg" x="131.40" y="329.90" width="2.40" height="2.50" rx="0.4"/><rect class="sg" x="135.20" y="329.90" width="2.40" height="2.50" rx="0.4"/><rect class="sg" x="131.40" y="333.20" width="2.40" height="2.50" rx="0.4"/><rect class="sg" x="135.20" y="333.20" width="2.40" height="2.50" rx="0.4"/><rect class="sg" x="151.40" y="329.90" width="2.40" height="2.50" rx="0.4"/><rect class="sg" x="155.20" y="329.90" width="2.40" height="2.50" rx="0.4"/><rect class="sg" x="151.40" y="333.20" width="2.40" height="2.50" rx="0.4"/><rect class="sg" x="155.20" y="333.20" width="2.40" height="2.50" rx="0.4"/><rect class="sg" x="172.40" y="329.90" width="2.40" height="2.50" rx="0.4"/><rect class="sg" x="176.20" y="329.90" width="2.40" height="2.50" rx="0.4"/><rect class="sg" x="172.40" y="333.20" width="2.40" height="2.50" rx="0.4"/><rect class="sg" x="176.20" y="333.20" width="2.40" height="2.50" rx="0.4"/><rect class="sg" x="194.40" y="329.90" width="2.40" height="2.50" rx="0.4"/><rect class="sg" x="198.20" y="329.90" width="2.40" height="2.50" rx="0.4"/><rect class="sg" x="194.40" y="333.20" width="2.40" height="2.50" rx="0.4"/><rect class="sg" x="198.20" y="333.20" width="2.40" height="2.50" rx="0.4"/><rect class="sg" x="216.40" y="329.90" width="2.40" height="2.50" rx="0.4"/><rect class="sg" x="220.20" y="329.90" width="2.40" height="2.50" rx="0.4"/><rect class="sg" x="216.40" y="333.20" width="2.40" height="2.50" rx="0.4"/><rect class="sg" x="220.20" y="333.20" width="2.40" height="2.50" rx="0.4"/><rect class="sg" x="237.40" y="329.90" width="2.40" height="2.50" rx="0.4"/><rect class="sg" x="241.20" y="329.90" width="2.40" height="2.50" rx="0.4"/><rect class="sg" x="237.40" y="333.20" width="2.40" height="2.50" rx="0.4"/><rect class="sg" x="241.20" y="333.20" width="2.40" height="2.50" rx="0.4"/><rect class="sg" x="256.40" y="329.90" width="2.40" height="2.50" rx="0.4"/><rect class="sg" x="260.20" y="329.90" width="2.40" height="2.50" rx="0.4"/><rect class="sg" x="256.40" y="333.20" width="2.40" height="2.50" rx="0.4"/><rect class="sg" x="260.20" y="333.20" width="2.40" height="2.50" rx="0.4"/><rect class="sg" x="275.40" y="329.90" width="2.40" height="2.50" rx="0.4"/><rect class="sg" x="279.20" y="329.90" width="2.40" height="2.50" rx="0.4"/><rect class="sg" x="275.40" y="333.20" width="2.40" height="2.50" rx="0.4"/><rect class="sg" x="279.20" y="333.20" width="2.40" height="2.50" rx="0.4"/><rect class="sg" x="298.40" y="329.90" width="2.40" height="2.50" rx="0.4"/><rect class="sg" x="302.20" y="329.90" width="2.40" height="2.50" rx="0.4"/><rect class="sg" x="298.40" y="333.20" width="2.40" height="2.50" rx="0.4"/><rect class="sg" x="302.20" y="333.20" width="2.40" height="2.50" rx="0.4"/><rect class="sg" x="319.40" y="329.90" width="2.40" height="2.50" rx="0.4"/><rect class="sg" x="323.20" y="329.90" width="2.40" height="2.50" rx="0.4"/><rect class="sg" x="319.40" y="333.20" width="2.40" height="2.50" rx="0.4"/><rect class="sg" x="323.20" y="333.20" width="2.40" height="2.50" rx="0.4"/><rect class="sg" x="340.40" y="329.90" width="2.40" height="2.50" rx="0.4"/><rect class="sg" x="344.20" y="329.90" width="2.40" height="2.50" rx="0.4"/><rect class="sg" x="340.40" y="333.20" width="2.40" height="2.50" rx="0.4"/><rect class="sg" x="344.20" y="333.20" width="2.40" height="2.50" rx="0.4"/><rect class="sg" x="362.40" y="329.90" width="2.40" height="2.50" rx="0.4"/><rect class="sg" x="366.20" y="329.90" width="2.40" height="2.50" rx="0.4"/><rect class="sg" x="362.40" y="333.20" width="2.40" height="2.50" rx="0.4"/><rect class="sg" x="366.20" y="333.20" width="2.40" height="2.50" rx="0.4"/><text x="67.3" y="347.2" font-family='"Liberation Serif", "Times New Roman", serif' font-size="10" letter-spacing="0.25" fill="#1e1e1e" stroke="#1e1e1e" stroke-width="0.2">Nankudu</text><rect class="sg" x="131.40" y="342.90" width="2.40" height="2.50" rx="0.4"/><rect class="sg" x="135.20" y="342.90" width="2.40" height="2.50" rx="0.4"/><rect class="sb" x="131.40" y="346.20" width="2.40" height="2.50" rx="0.4"/><rect class="sg" x="135.20" y="346.20" width="2.40" height="2.50" rx="0.4"/><rect class="sg" x="151.40" y="342.90" width="2.40" height="2.50" rx="0.4"/><rect class="sg" x="155.20" y="342.90" width="2.40" height="2.50" rx="0.4"/><rect class="sb" x="151.40" y="346.20" width="2.40" height="2.50" rx="0.4"/><rect class="sg" x="155.20" y="346.20" width="2.40" height="2.50" rx="0.4"/><rect class="sg" x="172.40" y="342.90" width="2.40" height="2.50" rx="0.4"/><rect class="sg" x="176.20" y="342.90" width="2.40" height="2.50" rx="0.4"/><rect class="sg" x="172.40" y="346.20" width="2.40" height="2.50" rx="0.4"/><rect class="sg" x="176.20" y="346.20" width="2.40" height="2.50" rx="0.4"/><rect class="sg" x="194.40" y="342.90" width="2.40" height="2.50" rx="0.4"/><rect class="sg" x="198.20" y="342.90" width="2.40" height="2.50" rx="0.4"/><rect class="sg" x="194.40" y="346.20" width="2.40" height="2.50" rx="0.4"/><rect class="sg" x="198.20" y="346.20" width="2.40" height="2.50" rx="0.4"/><rect class="sg" x="216.40" y="342.90" width="2.40" height="2.50" rx="0.4"/><rect class="sg" x="220.20" y="342.90" width="2.40" height="2.50" rx="0.4"/><rect class="sg" x="216.40" y="346.20" width="2.40" height="2.50" rx="0.4"/><rect class="sg" x="220.20" y="346.20" width="2.40" height="2.50" rx="0.4"/><rect class="sg" x="237.40" y="342.90" width="2.40" height="2.50" rx="0.4"/><rect class="sg" x="241.20" y="342.90" width="2.40" height="2.50" rx="0.4"/><rect class="sg" x="237.40" y="346.20" width="2.40" height="2.50" rx="0.4"/><rect class="sg" x="241.20" y="346.20" width="2.40" height="2.50" rx="0.4"/><rect class="sg" x="256.40" y="342.90" width="2.40" height="2.50" rx="0.4"/><rect class="sg" x="260.20" y="342.90" width="2.40" height="2.50" rx="0.4"/><rect class="sg" x="256.40" y="346.20" width="2.40" height="2.50" rx="0.4"/><rect class="sg" x="260.20" y="346.20" width="2.40" height="2.50" rx="0.4"/><rect class="sg" x="275.40" y="342.90" width="2.40" height="2.50" rx="0.4"/><rect class="sg" x="279.20" y="342.90" width="2.40" height="2.50" rx="0.4"/><rect class="sg" x="275.40" y="346.20" width="2.40" height="2.50" rx="0.4"/><rect class="sg" x="279.20" y="346.20" width="2.40" height="2.50" rx="0.4"/><rect class="sg" x="298.40" y="342.90" width="2.40" height="2.50" rx="0.4"/><rect class="sg" x="302.20" y="342.90" width="2.40" height="2.50" rx="0.4"/><rect class="sg" x="298.40" y="346.20" width="2.40" height="2.50" rx="0.4"/><rect class="sg" x="302.20" y="346.20" width="2.40" height="2.50" rx="0.4"/><rect class="sg" x="319.40" y="342.90" width="2.40" height="2.50" rx="0.4"/><rect class="sg" x="323.20" y="342.90" width="2.40" height="2.50" rx="0.4"/><rect class="sg" x="319.40" y="346.20" width="2.40" height="2.50" rx="0.4"/><rect class="sg" x="323.20" y="346.20" width="2.40" height="2.50" rx="0.4"/><rect class="sg" x="340.40" y="342.90" width="2.40" height="2.50" rx="0.4"/><rect class="sg" x="344.20" y="342.90" width="2.40" height="2.50" rx="0.4"/><rect class="sg" x="340.40" y="346.20" width="2.40" height="2.50" rx="0.4"/><rect class="sg" x="344.20" y="346.20" width="2.40" height="2.50" rx="0.4"/><rect class="sg" x="362.40" y="342.90" width="2.40" height="2.50" rx="0.4"/><rect class="sg" x="366.20" y="342.90" width="2.40" height="2.50" rx="0.4"/><rect class="sb" x="362.40" y="346.20" width="2.40" height="2.50" rx="0.4"/><rect class="sg" x="366.20" y="346.20" width="2.40" height="2.50" rx="0.4"/><text x="67.3" y="360.0" font-family='"Liberation Serif", "Times New Roman", serif' font-size="10" letter-spacing="0.25" fill="#1e1e1e" stroke="#1e1e1e" stroke-width="0.2">Nyangana</text><rect class="sg" x="131.40" y="355.40" width="2.40" height="2.50" rx="0.4"/><rect class="sg" x="135.20" y="355.40" width="2.40" height="2.50" rx="0.4"/><rect class="sg" x="131.40" y="358.70" width="2.40" height="2.50" rx="0.4"/><rect class="sg" x="135.20" y="358.70" width="2.40" height="2.50" rx="0.4"/><rect class="sg" x="151.40" y="355.40" width="2.40" height="2.50" rx="0.4"/><rect class="sg" x="155.20" y="355.40" width="2.40" height="2.50" rx="0.4"/><rect class="sg" x="151.40" y="358.70" width="2.40" height="2.50" rx="0.4"/><rect class="sg" x="155.20" y="358.70" width="2.40" height="2.50" rx="0.4"/><rect class="sg" x="172.40" y="355.40" width="2.40" height="2.50" rx="0.4"/><rect class="sg" x="176.20" y="355.40" width="2.40" height="2.50" rx="0.4"/><rect class="sg" x="172.40" y="358.70" width="2.40" height="2.50" rx="0.4"/><rect class="sg" x="176.20" y="358.70" width="2.40" height="2.50" rx="0.4"/><rect class="sg" x="194.40" y="355.40" width="2.40" height="2.50" rx="0.4"/><rect class="sg" x="198.20" y="355.40" width="2.40" height="2.50" rx="0.4"/><rect class="sg" x="194.40" y="358.70" width="2.40" height="2.50" rx="0.4"/><rect class="sg" x="198.20" y="358.70" width="2.40" height="2.50" rx="0.4"/><rect class="sg" x="216.40" y="355.40" width="2.40" height="2.50" rx="0.4"/><rect class="sg" x="220.20" y="355.40" width="2.40" height="2.50" rx="0.4"/><rect class="sg" x="216.40" y="358.70" width="2.40" height="2.50" rx="0.4"/><rect class="sg" x="220.20" y="358.70" width="2.40" height="2.50" rx="0.4"/><rect class="sg" x="237.40" y="355.40" width="2.40" height="2.50" rx="0.4"/><rect class="sg" x="241.20" y="355.40" width="2.40" height="2.50" rx="0.4"/><rect class="sg" x="237.40" y="358.70" width="2.40" height="2.50" rx="0.4"/><rect class="sg" x="241.20" y="358.70" width="2.40" height="2.50" rx="0.4"/><rect class="sg" x="256.40" y="355.40" width="2.40" height="2.50" rx="0.4"/><rect class="sg" x="260.20" y="355.40" width="2.40" height="2.50" rx="0.4"/><rect class="sg" x="256.40" y="358.70" width="2.40" height="2.50" rx="0.4"/><rect class="sg" x="260.20" y="358.70" width="2.40" height="2.50" rx="0.4"/><rect class="sg" x="275.40" y="355.40" width="2.40" height="2.50" rx="0.4"/><rect class="sg" x="279.20" y="355.40" width="2.40" height="2.50" rx="0.4"/><rect class="sg" x="275.40" y="358.70" width="2.40" height="2.50" rx="0.4"/><rect class="sg" x="279.20" y="358.70" width="2.40" height="2.50" rx="0.4"/><rect class="sg" x="298.40" y="355.40" width="2.40" height="2.50" rx="0.4"/><rect class="sg" x="302.20" y="355.40" width="2.40" height="2.50" rx="0.4"/><rect class="sg" x="298.40" y="358.70" width="2.40" height="2.50" rx="0.4"/><rect class="sg" x="302.20" y="358.70" width="2.40" height="2.50" rx="0.4"/><rect class="sg" x="319.40" y="355.40" width="2.40" height="2.50" rx="0.4"/><rect class="sg" x="323.20" y="355.40" width="2.40" height="2.50" rx="0.4"/><rect class="sg" x="319.40" y="358.70" width="2.40" height="2.50" rx="0.4"/><rect class="sg" x="323.20" y="358.70" width="2.40" height="2.50" rx="0.4"/><rect class="sg" x="340.40" y="355.40" width="2.40" height="2.50" rx="0.4"/><rect class="sg" x="344.20" y="355.40" width="2.40" height="2.50" rx="0.4"/><rect class="sg" x="340.40" y="358.70" width="2.40" height="2.50" rx="0.4"/><rect class="sg" x="344.20" y="358.70" width="2.40" height="2.50" rx="0.4"/><rect class="sg" x="362.40" y="355.40" width="2.40" height="2.50" rx="0.4"/><rect class="sg" x="366.20" y="355.40" width="2.40" height="2.50" rx="0.4"/><rect class="sg" x="362.40" y="358.70" width="2.40" height="2.50" rx="0.4"/><rect class="sg" x="366.20" y="358.70" width="2.40" height="2.50" rx="0.4"/><text x="67.3" y="372.8" font-family='"Liberation Serif", "Times New Roman", serif' font-size="10" letter-spacing="0.25" fill="#1e1e1e" stroke="#1e1e1e" stroke-width="0.2">Rundu</text><rect class="sb" x="131.40" y="368.40" width="2.40" height="2.50" rx="0.4"/><rect class="sb" x="135.20" y="368.40" width="2.40" height="2.50" rx="0.4"/><rect class="sb" x="131.40" y="371.70" width="2.40" height="2.50" rx="0.4"/><rect class="sb" x="135.20" y="371.70" width="2.40" height="2.50" rx="0.4"/><rect class="sb" x="151.40" y="368.40" width="2.40" height="2.50" rx="0.4"/><rect class="sb" x="155.20" y="368.40" width="2.40" height="2.50" rx="0.4"/><rect class="sb" x="151.40" y="371.70" width="2.40" height="2.50" rx="0.4"/><rect class="sb" x="155.20" y="371.70" width="2.40" height="2.50" rx="0.4"/><rect class="sb" x="172.40" y="368.40" width="2.40" height="2.50" rx="0.4"/><rect class="sb" x="176.20" y="368.40" width="2.40" height="2.50" rx="0.4"/><rect class="sb" x="172.40" y="371.70" width="2.40" height="2.50" rx="0.4"/><rect class="sb" x="176.20" y="371.70" width="2.40" height="2.50" rx="0.4"/><rect class="sb" x="194.40" y="368.40" width="2.40" height="2.50" rx="0.4"/><rect class="sb" x="198.20" y="368.40" width="2.40" height="2.50" rx="0.4"/><rect class="sb" x="194.40" y="371.70" width="2.40" height="2.50" rx="0.4"/><rect class="sb" x="198.20" y="371.70" width="2.40" height="2.50" rx="0.4"/><rect class="sb" x="216.40" y="368.40" width="2.40" height="2.50" rx="0.4"/><rect class="sg" x="220.20" y="368.40" width="2.40" height="2.50" rx="0.4"/><rect class="sb" x="216.40" y="371.70" width="2.40" height="2.50" rx="0.4"/><rect class="sb" x="220.20" y="371.70" width="2.40" height="2.50" rx="0.4"/><rect class="sb" x="237.40" y="368.40" width="2.40" height="2.50" rx="0.4"/><rect class="sg" x="241.20" y="368.40" width="2.40" height="2.50" rx="0.4"/><rect class="sb" x="237.40" y="371.70" width="2.40" height="2.50" rx="0.4"/><rect class="sb" x="241.20" y="371.70" width="2.40" height="2.50" rx="0.4"/><rect class="sb" x="256.40" y="368.40" width="2.40" height="2.50" rx="0.4"/><rect class="sg" x="260.20" y="368.40" width="2.40" height="2.50" rx="0.4"/><rect class="sb" x="256.40" y="371.70" width="2.40" height="2.50" rx="0.4"/><rect class="sb" x="260.20" y="371.70" width="2.40" height="2.50" rx="0.4"/><rect class="sb" x="275.40" y="368.40" width="2.40" height="2.50" rx="0.4"/><rect class="sg" x="279.20" y="368.40" width="2.40" height="2.50" rx="0.4"/><rect class="sb" x="275.40" y="371.70" width="2.40" height="2.50" rx="0.4"/><rect class="sb" x="279.20" y="371.70" width="2.40" height="2.50" rx="0.4"/><rect class="sb" x="298.40" y="368.40" width="2.40" height="2.50" rx="0.4"/><rect class="sg" x="302.20" y="368.40" width="2.40" height="2.50" rx="0.4"/><rect class="sb" x="298.40" y="371.70" width="2.40" height="2.50" rx="0.4"/><rect class="sb" x="302.20" y="371.70" width="2.40" height="2.50" rx="0.4"/><rect class="sb" x="319.40" y="368.40" width="2.40" height="2.50" rx="0.4"/><rect class="sb" x="323.20" y="368.40" width="2.40" height="2.50" rx="0.4"/><rect class="sb" x="319.40" y="371.70" width="2.40" height="2.50" rx="0.4"/><rect class="sb" x="323.20" y="371.70" width="2.40" height="2.50" rx="0.4"/><rect class="sb" x="340.40" y="368.40" width="2.40" height="2.50" rx="0.4"/><rect class="sb" x="344.20" y="368.40" width="2.40" height="2.50" rx="0.4"/><rect class="sb" x="340.40" y="371.70" width="2.40" height="2.50" rx="0.4"/><rect class="sb" x="344.20" y="371.70" width="2.40" height="2.50" rx="0.4"/><rect class="sb" x="362.40" y="368.40" width="2.40" height="2.50" rx="0.4"/><rect class="sb" x="366.20" y="368.40" width="2.40" height="2.50" rx="0.4"/><rect class="sb" x="362.40" y="371.70" width="2.40" height="2.50" rx="0.4"/><rect class="sb" x="366.20" y="371.70" width="2.40" height="2.50" rx="0.4"/><text x="3.6" y="385.5" font-family='"Liberation Serif", "Times New Roman", serif' font-size="10" letter-spacing="0.25" fill="#1e1e1e" stroke="#1e1e1e" stroke-width="0.2">Kunene</text><text x="67.3" y="385.5" font-family='"Liberation Serif", "Times New Roman", serif' font-size="10" letter-spacing="0.25" fill="#1e1e1e" stroke="#1e1e1e" stroke-width="0.2">Khorixas</text><rect class="sg" x="131.40" y="380.90" width="2.40" height="2.50" rx="0.4"/><rect class="sg" x="135.20" y="380.90" width="2.40" height="2.50" rx="0.4"/><rect class="sg" x="131.40" y="384.20" width="2.40" height="2.50" rx="0.4"/><rect class="sg" x="135.20" y="384.20" width="2.40" height="2.50" rx="0.4"/><rect class="sg" x="151.40" y="380.90" width="2.40" height="2.50" rx="0.4"/><rect class="sg" x="155.20" y="380.90" width="2.40" height="2.50" rx="0.4"/><rect class="sg" x="151.40" y="384.20" width="2.40" height="2.50" rx="0.4"/><rect class="sg" x="155.20" y="384.20" width="2.40" height="2.50" rx="0.4"/><rect class="sg" x="172.40" y="380.90" width="2.40" height="2.50" rx="0.4"/><rect class="sg" x="176.20" y="380.90" width="2.40" height="2.50" rx="0.4"/><rect class="sg" x="172.40" y="384.20" width="2.40" height="2.50" rx="0.4"/><rect class="sg" x="176.20" y="384.20" width="2.40" height="2.50" rx="0.4"/><rect class="sg" x="194.40" y="380.90" width="2.40" height="2.50" rx="0.4"/><rect class="sg" x="198.20" y="380.90" width="2.40" height="2.50" rx="0.4"/><rect class="sg" x="194.40" y="384.20" width="2.40" height="2.50" rx="0.4"/><rect class="sg" x="198.20" y="384.20" width="2.40" height="2.50" rx="0.4"/><rect class="sg" x="216.40" y="380.90" width="2.40" height="2.50" rx="0.4"/><rect class="sg" x="220.20" y="380.90" width="2.40" height="2.50" rx="0.4"/><rect class="sg" x="216.40" y="384.20" width="2.40" height="2.50" rx="0.4"/><rect class="sg" x="220.20" y="384.20" width="2.40" height="2.50" rx="0.4"/><rect class="sg" x="237.40" y="380.90" width="2.40" height="2.50" rx="0.4"/><rect class="sg" x="241.20" y="380.90" width="2.40" height="2.50" rx="0.4"/><rect class="sg" x="237.40" y="384.20" width="2.40" height="2.50" rx="0.4"/><rect class="sg" x="241.20" y="384.20" width="2.40" height="2.50" rx="0.4"/><rect class="sg" x="256.40" y="380.90" width="2.40" height="2.50" rx="0.4"/><rect class="sg" x="260.20" y="380.90" width="2.40" height="2.50" rx="0.4"/><rect class="sg" x="256.40" y="384.20" width="2.40" height="2.50" rx="0.4"/><rect class="sg" x="260.20" y="384.20" width="2.40" height="2.50" rx="0.4"/><rect class="sg" x="275.40" y="380.90" width="2.40" height="2.50" rx="0.4"/><rect class="sg" x="279.20" y="380.90" width="2.40" height="2.50" rx="0.4"/><rect class="sg" x="275.40" y="384.20" width="2.40" height="2.50" rx="0.4"/><rect class="sg" x="279.20" y="384.20" width="2.40" height="2.50" rx="0.4"/><rect class="sg" x="298.40" y="380.90" width="2.40" height="2.50" rx="0.4"/><rect class="sg" x="302.20" y="380.90" width="2.40" height="2.50" rx="0.4"/><rect class="sg" x="298.40" y="384.20" width="2.40" height="2.50" rx="0.4"/><rect class="sg" x="302.20" y="384.20" width="2.40" height="2.50" rx="0.4"/><rect class="sg" x="319.40" y="380.90" width="2.40" height="2.50" rx="0.4"/><rect class="sg" x="323.20" y="380.90" width="2.40" height="2.50" rx="0.4"/><rect class="sg" x="319.40" y="384.20" width="2.40" height="2.50" rx="0.4"/><rect class="sg" x="323.20" y="384.20" width="2.40" height="2.50" rx="0.4"/><rect class="sg" x="340.40" y="380.90" width="2.40" height="2.50" rx="0.4"/><rect class="sg" x="344.20" y="380.90" width="2.40" height="2.50" rx="0.4"/><rect class="sg" x="340.40" y="384.20" width="2.40" height="2.50" rx="0.4"/><rect class="sg" x="344.20" y="384.20" width="2.40" height="2.50" rx="0.4"/><rect class="sg" x="362.40" y="380.90" width="2.40" height="2.50" rx="0.4"/><rect class="sg" x="366.20" y="380.90" width="2.40" height="2.50" rx="0.4"/><rect class="sg" x="362.40" y="384.20" width="2.40" height="2.50" rx="0.4"/><rect class="sg" x="366.20" y="384.20" width="2.40" height="2.50" rx="0.4"/><text x="67.3" y="398.3" font-family='"Liberation Serif", "Times New Roman", serif' font-size="10" letter-spacing="0.25" fill="#1e1e1e" stroke="#1e1e1e" stroke-width="0.2">Opuwo</text><rect class="sg" x="131.40" y="393.90" width="2.40" height="2.50" rx="0.4"/><rect class="sg" x="135.20" y="393.90" width="2.40" height="2.50" rx="0.4"/><rect class="sb" x="131.40" y="397.20" width="2.40" height="2.50" rx="0.4"/><rect class="sg" x="135.20" y="397.20" width="2.40" height="2.50" rx="0.4"/><rect class="sg" x="151.40" y="393.90" width="2.40" height="2.50" rx="0.4"/><rect class="sg" x="155.20" y="393.90" width="2.40" height="2.50" rx="0.4"/><rect class="sb" x="151.40" y="397.20" width="2.40" height="2.50" rx="0.4"/><rect class="sg" x="155.20" y="397.20" width="2.40" height="2.50" rx="0.4"/><rect class="sg" x="172.40" y="393.90" width="2.40" height="2.50" rx="0.4"/><rect class="sg" x="176.20" y="393.90" width="2.40" height="2.50" rx="0.4"/><rect class="sb" x="172.40" y="397.20" width="2.40" height="2.50" rx="0.4"/><rect class="sb" x="176.20" y="397.20" width="2.40" height="2.50" rx="0.4"/><rect class="sg" x="194.40" y="393.90" width="2.40" height="2.50" rx="0.4"/><rect class="sg" x="198.20" y="393.90" width="2.40" height="2.50" rx="0.4"/><rect class="sb" x="194.40" y="397.20" width="2.40" height="2.50" rx="0.4"/><rect class="sg" x="198.20" y="397.20" width="2.40" height="2.50" rx="0.4"/><rect class="sg" x="216.40" y="393.90" width="2.40" height="2.50" rx="0.4"/><rect class="sg" x="220.20" y="393.90" width="2.40" height="2.50" rx="0.4"/><rect class="sb" x="216.40" y="397.20" width="2.40" height="2.50" rx="0.4"/><rect class="sg" x="220.20" y="397.20" width="2.40" height="2.50" rx="0.4"/><rect class="sg" x="237.40" y="393.90" width="2.40" height="2.50" rx="0.4"/><rect class="sg" x="241.20" y="393.90" width="2.40" height="2.50" rx="0.4"/><rect class="sb" x="237.40" y="397.20" width="2.40" height="2.50" rx="0.4"/><rect class="sg" x="241.20" y="397.20" width="2.40" height="2.50" rx="0.4"/><rect class="sg" x="256.40" y="393.90" width="2.40" height="2.50" rx="0.4"/><rect class="sg" x="260.20" y="393.90" width="2.40" height="2.50" rx="0.4"/><rect class="sb" x="256.40" y="397.20" width="2.40" height="2.50" rx="0.4"/><rect class="sg" x="260.20" y="397.20" width="2.40" height="2.50" rx="0.4"/><rect class="sg" x="275.40" y="393.90" width="2.40" height="2.50" rx="0.4"/><rect class="sg" x="279.20" y="393.90" width="2.40" height="2.50" rx="0.4"/><rect class="sb" x="275.40" y="397.20" width="2.40" height="2.50" rx="0.4"/><rect class="sg" x="279.20" y="397.20" width="2.40" height="2.50" rx="0.4"/><rect class="sg" x="298.40" y="393.90" width="2.40" height="2.50" rx="0.4"/><rect class="sg" x="302.20" y="393.90" width="2.40" height="2.50" rx="0.4"/><rect class="sb" x="298.40" y="397.20" width="2.40" height="2.50" rx="0.4"/><rect class="sg" x="302.20" y="397.20" width="2.40" height="2.50" rx="0.4"/><rect class="sg" x="319.40" y="393.90" width="2.40" height="2.50" rx="0.4"/><rect class="sg" x="323.20" y="393.90" width="2.40" height="2.50" rx="0.4"/><rect class="sb" x="319.40" y="397.20" width="2.40" height="2.50" rx="0.4"/><rect class="sg" x="323.20" y="397.20" width="2.40" height="2.50" rx="0.4"/><rect class="sg" x="340.40" y="393.90" width="2.40" height="2.50" rx="0.4"/><rect class="sg" x="344.20" y="393.90" width="2.40" height="2.50" rx="0.4"/><rect class="sb" x="340.40" y="397.20" width="2.40" height="2.50" rx="0.4"/><rect class="sg" x="344.20" y="397.20" width="2.40" height="2.50" rx="0.4"/><rect class="sg" x="362.40" y="393.90" width="2.40" height="2.50" rx="0.4"/><rect class="sg" x="366.20" y="393.90" width="2.40" height="2.50" rx="0.4"/><rect class="sb" x="362.40" y="397.20" width="2.40" height="2.50" rx="0.4"/><rect class="sg" x="366.20" y="397.20" width="2.40" height="2.50" rx="0.4"/><text x="67.3" y="411.1" font-family='"Liberation Serif", "Times New Roman", serif' font-size="10" letter-spacing="0.25" fill="#1e1e1e" stroke="#1e1e1e" stroke-width="0.2">Outjo</text><rect class="sg" x="131.40" y="406.40" width="2.40" height="2.50" rx="0.4"/><rect class="sg" x="135.20" y="406.40" width="2.40" height="2.50" rx="0.4"/><rect class="sb" x="131.40" y="409.70" width="2.40" height="2.50" rx="0.4"/><rect class="sb" x="135.20" y="409.70" width="2.40" height="2.50" rx="0.4"/><rect class="sg" x="151.40" y="406.40" width="2.40" height="2.50" rx="0.4"/><rect class="sg" x="155.20" y="406.40" width="2.40" height="2.50" rx="0.4"/><rect class="sb" x="151.40" y="409.70" width="2.40" height="2.50" rx="0.4"/><rect class="sb" x="155.20" y="409.70" width="2.40" height="2.50" rx="0.4"/><rect class="sg" x="172.40" y="406.40" width="2.40" height="2.50" rx="0.4"/><rect class="sg" x="176.20" y="406.40" width="2.40" height="2.50" rx="0.4"/><rect class="sb" x="172.40" y="409.70" width="2.40" height="2.50" rx="0.4"/><rect class="sb" x="176.20" y="409.70" width="2.40" height="2.50" rx="0.4"/><rect class="sg" x="194.40" y="406.40" width="2.40" height="2.50" rx="0.4"/><rect class="sg" x="198.20" y="406.40" width="2.40" height="2.50" rx="0.4"/><rect class="sb" x="194.40" y="409.70" width="2.40" height="2.50" rx="0.4"/><rect class="sb" x="198.20" y="409.70" width="2.40" height="2.50" rx="0.4"/><rect class="sg" x="216.40" y="406.40" width="2.40" height="2.50" rx="0.4"/><rect class="sg" x="220.20" y="406.40" width="2.40" height="2.50" rx="0.4"/><rect class="sb" x="216.40" y="409.70" width="2.40" height="2.50" rx="0.4"/><rect class="sb" x="220.20" y="409.70" width="2.40" height="2.50" rx="0.4"/><rect class="sg" x="237.40" y="406.40" width="2.40" height="2.50" rx="0.4"/><rect class="sg" x="241.20" y="406.40" width="2.40" height="2.50" rx="0.4"/><rect class="sb" x="237.40" y="409.70" width="2.40" height="2.50" rx="0.4"/><rect class="sb" x="241.20" y="409.70" width="2.40" height="2.50" rx="0.4"/><rect class="sg" x="256.40" y="406.40" width="2.40" height="2.50" rx="0.4"/><rect class="sg" x="260.20" y="406.40" width="2.40" height="2.50" rx="0.4"/><rect class="sb" x="256.40" y="409.70" width="2.40" height="2.50" rx="0.4"/><rect class="sb" x="260.20" y="409.70" width="2.40" height="2.50" rx="0.4"/><rect class="sg" x="275.40" y="406.40" width="2.40" height="2.50" rx="0.4"/><rect class="sg" x="279.20" y="406.40" width="2.40" height="2.50" rx="0.4"/><rect class="sb" x="275.40" y="409.70" width="2.40" height="2.50" rx="0.4"/><rect class="sb" x="279.20" y="409.70" width="2.40" height="2.50" rx="0.4"/><rect class="sg" x="298.40" y="406.40" width="2.40" height="2.50" rx="0.4"/><rect class="sg" x="302.20" y="406.40" width="2.40" height="2.50" rx="0.4"/><rect class="sb" x="298.40" y="409.70" width="2.40" height="2.50" rx="0.4"/><rect class="sb" x="302.20" y="409.70" width="2.40" height="2.50" rx="0.4"/><rect class="sg" x="319.40" y="406.40" width="2.40" height="2.50" rx="0.4"/><rect class="sg" x="323.20" y="406.40" width="2.40" height="2.50" rx="0.4"/><rect class="sb" x="319.40" y="409.70" width="2.40" height="2.50" rx="0.4"/><rect class="sb" x="323.20" y="409.70" width="2.40" height="2.50" rx="0.4"/><rect class="sg" x="340.40" y="406.40" width="2.40" height="2.50" rx="0.4"/><rect class="sg" x="344.20" y="406.40" width="2.40" height="2.50" rx="0.4"/><rect class="sb" x="340.40" y="409.70" width="2.40" height="2.50" rx="0.4"/><rect class="sb" x="344.20" y="409.70" width="2.40" height="2.50" rx="0.4"/><rect class="sg" x="362.40" y="406.40" width="2.40" height="2.50" rx="0.4"/><rect class="sg" x="366.20" y="406.40" width="2.40" height="2.50" rx="0.4"/><rect class="sb" x="362.40" y="409.70" width="2.40" height="2.50" rx="0.4"/><rect class="sb" x="366.20" y="409.70" width="2.40" height="2.50" rx="0.4"/><text x="3.6" y="423.9" font-family='"Liberation Serif", "Times New Roman", serif' font-size="10" letter-spacing="0.25" fill="#1e1e1e" stroke="#1e1e1e" stroke-width="0.2">Ohangwena</text><text x="67.3" y="423.9" font-family='"Liberation Serif", "Times New Roman", serif' font-size="10" letter-spacing="0.25" fill="#1e1e1e" stroke="#1e1e1e" stroke-width="0.2">Eenhana</text><rect class="sg" x="131.40" y="419.40" width="2.40" height="2.50" rx="0.4"/><rect class="sg" x="135.20" y="419.40" width="2.40" height="2.50" rx="0.4"/><rect class="sg" x="131.40" y="422.70" width="2.40" height="2.50" rx="0.4"/><rect class="sg" x="135.20" y="422.70" width="2.40" height="2.50" rx="0.4"/><rect class="sg" x="151.40" y="419.40" width="2.40" height="2.50" rx="0.4"/><rect class="sg" x="155.20" y="419.40" width="2.40" height="2.50" rx="0.4"/><rect class="sg" x="151.40" y="422.70" width="2.40" height="2.50" rx="0.4"/><rect class="sg" x="155.20" y="422.70" width="2.40" height="2.50" rx="0.4"/><rect class="sg" x="172.40" y="419.40" width="2.40" height="2.50" rx="0.4"/><rect class="sg" x="176.20" y="419.40" width="2.40" height="2.50" rx="0.4"/><rect class="sg" x="172.40" y="422.70" width="2.40" height="2.50" rx="0.4"/><rect class="sg" x="176.20" y="422.70" width="2.40" height="2.50" rx="0.4"/><rect class="sg" x="194.40" y="419.40" width="2.40" height="2.50" rx="0.4"/><rect class="sg" x="198.20" y="419.40" width="2.40" height="2.50" rx="0.4"/><rect class="sg" x="194.40" y="422.70" width="2.40" height="2.50" rx="0.4"/><rect class="sg" x="198.20" y="422.70" width="2.40" height="2.50" rx="0.4"/><rect class="sg" x="216.40" y="419.40" width="2.40" height="2.50" rx="0.4"/><rect class="sg" x="220.20" y="419.40" width="2.40" height="2.50" rx="0.4"/><rect class="sg" x="216.40" y="422.70" width="2.40" height="2.50" rx="0.4"/><rect class="sg" x="220.20" y="422.70" width="2.40" height="2.50" rx="0.4"/><rect class="sg" x="237.40" y="419.40" width="2.40" height="2.50" rx="0.4"/><rect class="sg" x="241.20" y="419.40" width="2.40" height="2.50" rx="0.4"/><rect class="sg" x="237.40" y="422.70" width="2.40" height="2.50" rx="0.4"/><rect class="sg" x="241.20" y="422.70" width="2.40" height="2.50" rx="0.4"/><rect class="sg" x="256.40" y="419.40" width="2.40" height="2.50" rx="0.4"/><rect class="sg" x="260.20" y="419.40" width="2.40" height="2.50" rx="0.4"/><rect class="sg" x="256.40" y="422.70" width="2.40" height="2.50" rx="0.4"/><rect class="sg" x="260.20" y="422.70" width="2.40" height="2.50" rx="0.4"/><rect class="sg" x="275.40" y="419.40" width="2.40" height="2.50" rx="0.4"/><rect class="sg" x="279.20" y="419.40" width="2.40" height="2.50" rx="0.4"/><rect class="sg" x="275.40" y="422.70" width="2.40" height="2.50" rx="0.4"/><rect class="sg" x="279.20" y="422.70" width="2.40" height="2.50" rx="0.4"/><rect class="sg" x="298.40" y="419.40" width="2.40" height="2.50" rx="0.4"/><rect class="sg" x="302.20" y="419.40" width="2.40" height="2.50" rx="0.4"/><rect class="sg" x="298.40" y="422.70" width="2.40" height="2.50" rx="0.4"/><rect class="sg" x="302.20" y="422.70" width="2.40" height="2.50" rx="0.4"/><rect class="sg" x="319.40" y="419.40" width="2.40" height="2.50" rx="0.4"/><rect class="sg" x="323.20" y="419.40" width="2.40" height="2.50" rx="0.4"/><rect class="sg" x="319.40" y="422.70" width="2.40" height="2.50" rx="0.4"/><rect class="sg" x="323.20" y="422.70" width="2.40" height="2.50" rx="0.4"/><rect class="sg" x="340.40" y="419.40" width="2.40" height="2.50" rx="0.4"/><rect class="sg" x="344.20" y="419.40" width="2.40" height="2.50" rx="0.4"/><rect class="sg" x="340.40" y="422.70" width="2.40" height="2.50" rx="0.4"/><rect class="sg" x="344.20" y="422.70" width="2.40" height="2.50" rx="0.4"/><rect class="sg" x="362.40" y="419.40" width="2.40" height="2.50" rx="0.4"/><rect class="sg" x="366.20" y="419.40" width="2.40" height="2.50" rx="0.4"/><rect class="sg" x="362.40" y="422.70" width="2.40" height="2.50" rx="0.4"/><rect class="sg" x="366.20" y="422.70" width="2.40" height="2.50" rx="0.4"/><text x="67.3" y="436.6" font-family='"Liberation Serif", "Times New Roman", serif' font-size="10" letter-spacing="0.25" fill="#1e1e1e" stroke="#1e1e1e" stroke-width="0.2">Engela</text><rect class="sg" x="131.40" y="431.90" width="2.40" height="2.50" rx="0.4"/><rect class="sg" x="135.20" y="431.90" width="2.40" height="2.50" rx="0.4"/><rect class="sb" x="131.40" y="435.20" width="2.40" height="2.50" rx="0.4"/><rect class="sg" x="135.20" y="435.20" width="2.40" height="2.50" rx="0.4"/><rect class="sg" x="151.40" y="431.90" width="2.40" height="2.50" rx="0.4"/><rect class="sg" x="155.20" y="431.90" width="2.40" height="2.50" rx="0.4"/><rect class="sb" x="151.40" y="435.20" width="2.40" height="2.50" rx="0.4"/><rect class="sg" x="155.20" y="435.20" width="2.40" height="2.50" rx="0.4"/><rect class="sg" x="172.40" y="431.90" width="2.40" height="2.50" rx="0.4"/><rect class="sg" x="176.20" y="431.90" width="2.40" height="2.50" rx="0.4"/><rect class="sb" x="172.40" y="435.20" width="2.40" height="2.50" rx="0.4"/><rect class="sg" x="176.20" y="435.20" width="2.40" height="2.50" rx="0.4"/><rect class="sg" x="194.40" y="431.90" width="2.40" height="2.50" rx="0.4"/><rect class="sg" x="198.20" y="431.90" width="2.40" height="2.50" rx="0.4"/><rect class="sg" x="194.40" y="435.20" width="2.40" height="2.50" rx="0.4"/><rect class="sg" x="198.20" y="435.20" width="2.40" height="2.50" rx="0.4"/><rect class="sg" x="216.40" y="431.90" width="2.40" height="2.50" rx="0.4"/><rect class="sg" x="220.20" y="431.90" width="2.40" height="2.50" rx="0.4"/><rect class="sg" x="216.40" y="435.20" width="2.40" height="2.50" rx="0.4"/><rect class="sg" x="220.20" y="435.20" width="2.40" height="2.50" rx="0.4"/><rect class="sg" x="237.40" y="431.90" width="2.40" height="2.50" rx="0.4"/><rect class="sg" x="241.20" y="431.90" width="2.40" height="2.50" rx="0.4"/><rect class="sg" x="237.40" y="435.20" width="2.40" height="2.50" rx="0.4"/><rect class="sg" x="241.20" y="435.20" width="2.40" height="2.50" rx="0.4"/><rect class="sg" x="256.40" y="431.90" width="2.40" height="2.50" rx="0.4"/><rect class="sg" x="260.20" y="431.90" width="2.40" height="2.50" rx="0.4"/><rect class="sg" x="256.40" y="435.20" width="2.40" height="2.50" rx="0.4"/><rect class="sg" x="260.20" y="435.20" width="2.40" height="2.50" rx="0.4"/><rect class="sg" x="275.40" y="431.90" width="2.40" height="2.50" rx="0.4"/><rect class="sg" x="279.20" y="431.90" width="2.40" height="2.50" rx="0.4"/><rect class="sg" x="275.40" y="435.20" width="2.40" height="2.50" rx="0.4"/><rect class="sg" x="279.20" y="435.20" width="2.40" height="2.50" rx="0.4"/><rect class="sg" x="298.40" y="431.90" width="2.40" height="2.50" rx="0.4"/><rect class="sg" x="302.20" y="431.90" width="2.40" height="2.50" rx="0.4"/><rect class="sg" x="298.40" y="435.20" width="2.40" height="2.50" rx="0.4"/><rect class="sg" x="302.20" y="435.20" width="2.40" height="2.50" rx="0.4"/><rect class="sg" x="319.40" y="431.90" width="2.40" height="2.50" rx="0.4"/><rect class="sg" x="323.20" y="431.90" width="2.40" height="2.50" rx="0.4"/><rect class="sg" x="319.40" y="435.20" width="2.40" height="2.50" rx="0.4"/><rect class="sg" x="323.20" y="435.20" width="2.40" height="2.50" rx="0.4"/><rect class="sg" x="340.40" y="431.90" width="2.40" height="2.50" rx="0.4"/><rect class="sg" x="344.20" y="431.90" width="2.40" height="2.50" rx="0.4"/><rect class="sg" x="340.40" y="435.20" width="2.40" height="2.50" rx="0.4"/><rect class="sg" x="344.20" y="435.20" width="2.40" height="2.50" rx="0.4"/><rect class="sg" x="362.40" y="431.90" width="2.40" height="2.50" rx="0.4"/><rect class="sg" x="366.20" y="431.90" width="2.40" height="2.50" rx="0.4"/><rect class="sg" x="362.40" y="435.20" width="2.40" height="2.50" rx="0.4"/><rect class="sg" x="366.20" y="435.20" width="2.40" height="2.50" rx="0.4"/><text x="67.3" y="449.4" font-family='"Liberation Serif", "Times New Roman", serif' font-size="10" letter-spacing="0.25" fill="#1e1e1e" stroke="#1e1e1e" stroke-width="0.2">Kongo</text><rect class="sg" x="131.40" y="444.90" width="2.40" height="2.50" rx="0.4"/><rect class="sg" x="135.20" y="444.90" width="2.40" height="2.50" rx="0.4"/><rect class="sg" x="131.40" y="448.20" width="2.40" height="2.50" rx="0.4"/><rect class="sg" x="135.20" y="448.20" width="2.40" height="2.50" rx="0.4"/><rect class="sg" x="151.40" y="444.90" width="2.40" height="2.50" rx="0.4"/><rect class="sg" x="155.20" y="444.90" width="2.40" height="2.50" rx="0.4"/><rect class="sg" x="151.40" y="448.20" width="2.40" height="2.50" rx="0.4"/><rect class="sg" x="155.20" y="448.20" width="2.40" height="2.50" rx="0.4"/><rect class="sg" x="172.40" y="444.90" width="2.40" height="2.50" rx="0.4"/><rect class="sg" x="176.20" y="444.90" width="2.40" height="2.50" rx="0.4"/><rect class="sg" x="172.40" y="448.20" width="2.40" height="2.50" rx="0.4"/><rect class="sg" x="176.20" y="448.20" width="2.40" height="2.50" rx="0.4"/><rect class="sg" x="194.40" y="444.90" width="2.40" height="2.50" rx="0.4"/><rect class="sg" x="198.20" y="444.90" width="2.40" height="2.50" rx="0.4"/><rect class="sg" x="194.40" y="448.20" width="2.40" height="2.50" rx="0.4"/><rect class="sg" x="198.20" y="448.20" width="2.40" height="2.50" rx="0.4"/><rect class="sg" x="216.40" y="444.90" width="2.40" height="2.50" rx="0.4"/><rect class="sg" x="220.20" y="444.90" width="2.40" height="2.50" rx="0.4"/><rect class="sg" x="216.40" y="448.20" width="2.40" height="2.50" rx="0.4"/><rect class="sg" x="220.20" y="448.20" width="2.40" height="2.50" rx="0.4"/><rect class="sg" x="237.40" y="444.90" width="2.40" height="2.50" rx="0.4"/><rect class="sg" x="241.20" y="444.90" width="2.40" height="2.50" rx="0.4"/><rect class="sg" x="237.40" y="448.20" width="2.40" height="2.50" rx="0.4"/><rect class="sg" x="241.20" y="448.20" width="2.40" height="2.50" rx="0.4"/><rect class="sg" x="256.40" y="444.90" width="2.40" height="2.50" rx="0.4"/><rect class="sg" x="260.20" y="444.90" width="2.40" height="2.50" rx="0.4"/><rect class="sg" x="256.40" y="448.20" width="2.40" height="2.50" rx="0.4"/><rect class="sg" x="260.20" y="448.20" width="2.40" height="2.50" rx="0.4"/><rect class="sg" x="275.40" y="444.90" width="2.40" height="2.50" rx="0.4"/><rect class="sg" x="279.20" y="444.90" width="2.40" height="2.50" rx="0.4"/><rect class="sg" x="275.40" y="448.20" width="2.40" height="2.50" rx="0.4"/><rect class="sg" x="279.20" y="448.20" width="2.40" height="2.50" rx="0.4"/><rect class="sg" x="298.40" y="444.90" width="2.40" height="2.50" rx="0.4"/><rect class="sg" x="302.20" y="444.90" width="2.40" height="2.50" rx="0.4"/><rect class="sg" x="298.40" y="448.20" width="2.40" height="2.50" rx="0.4"/><rect class="sg" x="302.20" y="448.20" width="2.40" height="2.50" rx="0.4"/><rect class="sg" x="319.40" y="444.90" width="2.40" height="2.50" rx="0.4"/><rect class="sg" x="323.20" y="444.90" width="2.40" height="2.50" rx="0.4"/><rect class="sg" x="319.40" y="448.20" width="2.40" height="2.50" rx="0.4"/><rect class="sg" x="323.20" y="448.20" width="2.40" height="2.50" rx="0.4"/><rect class="sg" x="340.40" y="444.90" width="2.40" height="2.50" rx="0.4"/><rect class="sg" x="344.20" y="444.90" width="2.40" height="2.50" rx="0.4"/><rect class="sg" x="340.40" y="448.20" width="2.40" height="2.50" rx="0.4"/><rect class="sg" x="344.20" y="448.20" width="2.40" height="2.50" rx="0.4"/><rect class="sg" x="362.40" y="444.90" width="2.40" height="2.50" rx="0.4"/><rect class="sg" x="366.20" y="444.90" width="2.40" height="2.50" rx="0.4"/><rect class="sg" x="362.40" y="448.20" width="2.40" height="2.50" rx="0.4"/><rect class="sg" x="366.20" y="448.20" width="2.40" height="2.50" rx="0.4"/><text x="3.6" y="462.2" font-family='"Liberation Serif", "Times New Roman", serif' font-size="10" letter-spacing="0.25" fill="#1e1e1e" stroke="#1e1e1e" stroke-width="0.2">Omaheke</text><text x="67.3" y="462.2" font-family='"Liberation Serif", "Times New Roman", serif' font-size="10" letter-spacing="0.25" fill="#1e1e1e" stroke="#1e1e1e" stroke-width="0.2">Gobabis</text><rect class="sg" x="131.40" y="457.90" width="2.40" height="2.50" rx="0.4"/><rect class="sg" x="135.20" y="457.90" width="2.40" height="2.50" rx="0.4"/><rect class="sg" x="131.40" y="461.20" width="2.40" height="2.50" rx="0.4"/><rect class="sg" x="135.20" y="461.20" width="2.40" height="2.50" rx="0.4"/><rect class="sg" x="151.40" y="457.90" width="2.40" height="2.50" rx="0.4"/><rect class="sg" x="155.20" y="457.90" width="2.40" height="2.50" rx="0.4"/><rect class="sg" x="151.40" y="461.20" width="2.40" height="2.50" rx="0.4"/><rect class="sg" x="155.20" y="461.20" width="2.40" height="2.50" rx="0.4"/><rect class="sg" x="172.40" y="457.90" width="2.40" height="2.50" rx="0.4"/><rect class="sg" x="176.20" y="457.90" width="2.40" height="2.50" rx="0.4"/><rect class="sg" x="172.40" y="461.20" width="2.40" height="2.50" rx="0.4"/><rect class="sg" x="176.20" y="461.20" width="2.40" height="2.50" rx="0.4"/><rect class="sg" x="194.40" y="457.90" width="2.40" height="2.50" rx="0.4"/><rect class="sg" x="198.20" y="457.90" width="2.40" height="2.50" rx="0.4"/><rect class="sg" x="194.40" y="461.20" width="2.40" height="2.50" rx="0.4"/><rect class="sg" x="198.20" y="461.20" width="2.40" height="2.50" rx="0.4"/><rect class="sg" x="216.40" y="457.90" width="2.40" height="2.50" rx="0.4"/><rect class="sg" x="220.20" y="457.90" width="2.40" height="2.50" rx="0.4"/><rect class="sg" x="216.40" y="461.20" width="2.40" height="2.50" rx="0.4"/><rect class="sg" x="220.20" y="461.20" width="2.40" height="2.50" rx="0.4"/><rect class="sg" x="237.40" y="457.90" width="2.40" height="2.50" rx="0.4"/><rect class="sg" x="241.20" y="457.90" width="2.40" height="2.50" rx="0.4"/><rect class="sg" x="237.40" y="461.20" width="2.40" height="2.50" rx="0.4"/><rect class="sg" x="241.20" y="461.20" width="2.40" height="2.50" rx="0.4"/><rect class="sg" x="256.40" y="457.90" width="2.40" height="2.50" rx="0.4"/><rect class="sg" x="260.20" y="457.90" width="2.40" height="2.50" rx="0.4"/><rect class="sg" x="256.40" y="461.20" width="2.40" height="2.50" rx="0.4"/><rect class="sg" x="260.20" y="461.20" width="2.40" height="2.50" rx="0.4"/><rect class="sg" x="275.40" y="457.90" width="2.40" height="2.50" rx="0.4"/><rect class="sg" x="279.20" y="457.90" width="2.40" height="2.50" rx="0.4"/><rect class="sg" x="275.40" y="461.20" width="2.40" height="2.50" rx="0.4"/><rect class="sg" x="279.20" y="461.20" width="2.40" height="2.50" rx="0.4"/><rect class="sg" x="298.40" y="457.90" width="2.40" height="2.50" rx="0.4"/><rect class="sg" x="302.20" y="457.90" width="2.40" height="2.50" rx="0.4"/><rect class="sg" x="298.40" y="461.20" width="2.40" height="2.50" rx="0.4"/><rect class="sg" x="302.20" y="461.20" width="2.40" height="2.50" rx="0.4"/><rect class="sg" x="319.40" y="457.90" width="2.40" height="2.50" rx="0.4"/><rect class="sg" x="323.20" y="457.90" width="2.40" height="2.50" rx="0.4"/><rect class="sg" x="319.40" y="461.20" width="2.40" height="2.50" rx="0.4"/><rect class="sg" x="323.20" y="461.20" width="2.40" height="2.50" rx="0.4"/><rect class="sg" x="340.40" y="457.90" width="2.40" height="2.50" rx="0.4"/><rect class="sg" x="344.20" y="457.90" width="2.40" height="2.50" rx="0.4"/><rect class="sg" x="340.40" y="461.20" width="2.40" height="2.50" rx="0.4"/><rect class="sg" x="344.20" y="461.20" width="2.40" height="2.50" rx="0.4"/><rect class="sg" x="362.40" y="457.90" width="2.40" height="2.50" rx="0.4"/><rect class="sg" x="366.20" y="457.90" width="2.40" height="2.50" rx="0.4"/><rect class="sg" x="362.40" y="461.20" width="2.40" height="2.50" rx="0.4"/><rect class="sg" x="366.20" y="461.20" width="2.40" height="2.50" rx="0.4"/><text x="3.6" y="474.9" font-family='"Liberation Serif", "Times New Roman", serif' font-size="10" letter-spacing="0.25" fill="#1e1e1e" stroke="#1e1e1e" stroke-width="0.2">Omusati</text><text x="67.3" y="474.9" font-family='"Liberation Serif", "Times New Roman", serif' font-size="10" letter-spacing="0.25" fill="#1e1e1e" stroke="#1e1e1e" stroke-width="0.2">Okahao</text><rect class="sg" x="131.40" y="470.40" width="2.40" height="2.50" rx="0.4"/><rect class="sg" x="135.20" y="470.40" width="2.40" height="2.50" rx="0.4"/><rect class="sb" x="131.40" y="473.70" width="2.40" height="2.50" rx="0.4"/><rect class="sg" x="135.20" y="473.70" width="2.40" height="2.50" rx="0.4"/><rect class="sg" x="151.40" y="470.40" width="2.40" height="2.50" rx="0.4"/><rect class="sg" x="155.20" y="470.40" width="2.40" height="2.50" rx="0.4"/><rect class="sb" x="151.40" y="473.70" width="2.40" height="2.50" rx="0.4"/><rect class="sg" x="155.20" y="473.70" width="2.40" height="2.50" rx="0.4"/><rect class="sg" x="172.40" y="470.40" width="2.40" height="2.50" rx="0.4"/><rect class="sg" x="176.20" y="470.40" width="2.40" height="2.50" rx="0.4"/><rect class="sb" x="172.40" y="473.70" width="2.40" height="2.50" rx="0.4"/><rect class="sg" x="176.20" y="473.70" width="2.40" height="2.50" rx="0.4"/><rect class="sg" x="194.40" y="470.40" width="2.40" height="2.50" rx="0.4"/><rect class="sg" x="198.20" y="470.40" width="2.40" height="2.50" rx="0.4"/><rect class="sg" x="194.40" y="473.70" width="2.40" height="2.50" rx="0.4"/><rect class="sg" x="198.20" y="473.70" width="2.40" height="2.50" rx="0.4"/><rect class="sg" x="216.40" y="470.40" width="2.40" height="2.50" rx="0.4"/><rect class="sg" x="220.20" y="470.40" width="2.40" height="2.50" rx="0.4"/><rect class="sg" x="216.40" y="473.70" width="2.40" height="2.50" rx="0.4"/><rect class="sg" x="220.20" y="473.70" width="2.40" height="2.50" rx="0.4"/><rect class="sg" x="237.40" y="470.40" width="2.40" height="2.50" rx="0.4"/><rect class="sg" x="241.20" y="470.40" width="2.40" height="2.50" rx="0.4"/><rect class="sg" x="237.40" y="473.70" width="2.40" height="2.50" rx="0.4"/><rect class="sg" x="241.20" y="473.70" width="2.40" height="2.50" rx="0.4"/><rect class="sg" x="256.40" y="470.40" width="2.40" height="2.50" rx="0.4"/><rect class="sg" x="260.20" y="470.40" width="2.40" height="2.50" rx="0.4"/><rect class="sg" x="256.40" y="473.70" width="2.40" height="2.50" rx="0.4"/><rect class="sg" x="260.20" y="473.70" width="2.40" height="2.50" rx="0.4"/><rect class="sg" x="275.40" y="470.40" width="2.40" height="2.50" rx="0.4"/><rect class="sg" x="279.20" y="470.40" width="2.40" height="2.50" rx="0.4"/><rect class="sg" x="275.40" y="473.70" width="2.40" height="2.50" rx="0.4"/><rect class="sg" x="279.20" y="473.70" width="2.40" height="2.50" rx="0.4"/><rect class="sg" x="298.40" y="470.40" width="2.40" height="2.50" rx="0.4"/><rect class="sg" x="302.20" y="470.40" width="2.40" height="2.50" rx="0.4"/><rect class="sg" x="298.40" y="473.70" width="2.40" height="2.50" rx="0.4"/><rect class="sg" x="302.20" y="473.70" width="2.40" height="2.50" rx="0.4"/><rect class="sg" x="319.40" y="470.40" width="2.40" height="2.50" rx="0.4"/><rect class="sg" x="323.20" y="470.40" width="2.40" height="2.50" rx="0.4"/><rect class="sg" x="319.40" y="473.70" width="2.40" height="2.50" rx="0.4"/><rect class="sg" x="323.20" y="473.70" width="2.40" height="2.50" rx="0.4"/><rect class="sg" x="340.40" y="470.40" width="2.40" height="2.50" rx="0.4"/><rect class="sg" x="344.20" y="470.40" width="2.40" height="2.50" rx="0.4"/><rect class="sb" x="340.40" y="473.70" width="2.40" height="2.50" rx="0.4"/><rect class="sg" x="344.20" y="473.70" width="2.40" height="2.50" rx="0.4"/><rect class="sg" x="362.40" y="470.40" width="2.40" height="2.50" rx="0.4"/><rect class="sg" x="366.20" y="470.40" width="2.40" height="2.50" rx="0.4"/><rect class="sb" x="362.40" y="473.70" width="2.40" height="2.50" rx="0.4"/><rect class="sg" x="366.20" y="473.70" width="2.40" height="2.50" rx="0.4"/><text x="67.3" y="487.7" font-family='"Liberation Serif", "Times New Roman", serif' font-size="10" letter-spacing="0.25" fill="#1e1e1e" stroke="#1e1e1e" stroke-width="0.2">Oshikuku</text><rect class="sb" x="131.40" y="483.40" width="2.40" height="2.50" rx="0.4"/><rect class="sg" x="135.20" y="483.40" width="2.40" height="2.50" rx="0.4"/><rect class="sb" x="131.40" y="486.70" width="2.40" height="2.50" rx="0.4"/><rect class="sb" x="135.20" y="486.70" width="2.40" height="2.50" rx="0.4"/><rect class="sb" x="151.40" y="483.40" width="2.40" height="2.50" rx="0.4"/><rect class="sg" x="155.20" y="483.40" width="2.40" height="2.50" rx="0.4"/><rect class="sb" x="151.40" y="486.70" width="2.40" height="2.50" rx="0.4"/><rect class="sb" x="155.20" y="486.70" width="2.40" height="2.50" rx="0.4"/><rect class="sb" x="172.40" y="483.40" width="2.40" height="2.50" rx="0.4"/><rect class="sg" x="176.20" y="483.40" width="2.40" height="2.50" rx="0.4"/><rect class="sb" x="172.40" y="486.70" width="2.40" height="2.50" rx="0.4"/><rect class="sb" x="176.20" y="486.70" width="2.40" height="2.50" rx="0.4"/><rect class="sg" x="194.40" y="483.40" width="2.40" height="2.50" rx="0.4"/><rect class="sg" x="198.20" y="483.40" width="2.40" height="2.50" rx="0.4"/><rect class="sb" x="194.40" y="486.70" width="2.40" height="2.50" rx="0.4"/><rect class="sb" x="198.20" y="486.70" width="2.40" height="2.50" rx="0.4"/><rect class="sg" x="216.40" y="483.40" width="2.40" height="2.50" rx="0.4"/><rect class="sg" x="220.20" y="483.40" width="2.40" height="2.50" rx="0.4"/><rect class="sb" x="216.40" y="486.70" width="2.40" height="2.50" rx="0.4"/><rect class="sb" x="220.20" y="486.70" width="2.40" height="2.50" rx="0.4"/><rect class="sg" x="237.40" y="483.40" width="2.40" height="2.50" rx="0.4"/><rect class="sg" x="241.20" y="483.40" width="2.40" height="2.50" rx="0.4"/><rect class="sb" x="237.40" y="486.70" width="2.40" height="2.50" rx="0.4"/><rect class="sb" x="241.20" y="486.70" width="2.40" height="2.50" rx="0.4"/><rect class="sg" x="256.40" y="483.40" width="2.40" height="2.50" rx="0.4"/><rect class="sg" x="260.20" y="483.40" width="2.40" height="2.50" rx="0.4"/><rect class="sb" x="256.40" y="486.70" width="2.40" height="2.50" rx="0.4"/><rect class="sb" x="260.20" y="486.70" width="2.40" height="2.50" rx="0.4"/><rect class="sg" x="275.40" y="483.40" width="2.40" height="2.50" rx="0.4"/><rect class="sg" x="279.20" y="483.40" width="2.40" height="2.50" rx="0.4"/><rect class="sb" x="275.40" y="486.70" width="2.40" height="2.50" rx="0.4"/><rect class="sb" x="279.20" y="486.70" width="2.40" height="2.50" rx="0.4"/><rect class="sg" x="298.40" y="483.40" width="2.40" height="2.50" rx="0.4"/><rect class="sg" x="302.20" y="483.40" width="2.40" height="2.50" rx="0.4"/><rect class="sb" x="298.40" y="486.70" width="2.40" height="2.50" rx="0.4"/><rect class="sb" x="302.20" y="486.70" width="2.40" height="2.50" rx="0.4"/><rect class="sg" x="319.40" y="483.40" width="2.40" height="2.50" rx="0.4"/><rect class="sg" x="323.20" y="483.40" width="2.40" height="2.50" rx="0.4"/><rect class="sb" x="319.40" y="486.70" width="2.40" height="2.50" rx="0.4"/><rect class="sb" x="323.20" y="486.70" width="2.40" height="2.50" rx="0.4"/><rect class="sb" x="340.40" y="483.40" width="2.40" height="2.50" rx="0.4"/><rect class="sg" x="344.20" y="483.40" width="2.40" height="2.50" rx="0.4"/><rect class="sb" x="340.40" y="486.70" width="2.40" height="2.50" rx="0.4"/><rect class="sb" x="344.20" y="486.70" width="2.40" height="2.50" rx="0.4"/><rect class="sb" x="362.40" y="483.40" width="2.40" height="2.50" rx="0.4"/><rect class="sg" x="366.20" y="483.40" width="2.40" height="2.50" rx="0.4"/><rect class="sb" x="362.40" y="486.70" width="2.40" height="2.50" rx="0.4"/><rect class="sb" x="366.20" y="486.70" width="2.40" height="2.50" rx="0.4"/><text x="67.3" y="500.5" font-family='"Liberation Serif", "Times New Roman", serif' font-size="10" letter-spacing="0.25" fill="#1e1e1e" stroke="#1e1e1e" stroke-width="0.2">Outapi</text><rect class="sb" x="131.40" y="495.90" width="2.40" height="2.50" rx="0.4"/><rect class="sg" x="135.20" y="495.90" width="2.40" height="2.50" rx="0.4"/><rect class="sb" x="131.40" y="499.20" width="2.40" height="2.50" rx="0.4"/><rect class="sb" x="135.20" y="499.20" width="2.40" height="2.50" rx="0.4"/><rect class="sb" x="151.40" y="495.90" width="2.40" height="2.50" rx="0.4"/><rect class="sg" x="155.20" y="495.90" width="2.40" height="2.50" rx="0.4"/><rect class="sb" x="151.40" y="499.20" width="2.40" height="2.50" rx="0.4"/><rect class="sb" x="155.20" y="499.20" width="2.40" height="2.50" rx="0.4"/><rect class="sb" x="172.40" y="495.90" width="2.40" height="2.50" rx="0.4"/><rect class="sg" x="176.20" y="495.90" width="2.40" height="2.50" rx="0.4"/><rect class="sb" x="172.40" y="499.20" width="2.40" height="2.50" rx="0.4"/><rect class="sb" x="176.20" y="499.20" width="2.40" height="2.50" rx="0.4"/><rect class="sg" x="194.40" y="495.90" width="2.40" height="2.50" rx="0.4"/><rect class="sg" x="198.20" y="495.90" width="2.40" height="2.50" rx="0.4"/><rect class="sb" x="194.40" y="499.20" width="2.40" height="2.50" rx="0.4"/><rect class="sb" x="198.20" y="499.20" width="2.40" height="2.50" rx="0.4"/><rect class="sg" x="216.40" y="495.90" width="2.40" height="2.50" rx="0.4"/><rect class="sg" x="220.20" y="495.90" width="2.40" height="2.50" rx="0.4"/><rect class="sb" x="216.40" y="499.20" width="2.40" height="2.50" rx="0.4"/><rect class="sb" x="220.20" y="499.20" width="2.40" height="2.50" rx="0.4"/><rect class="sg" x="237.40" y="495.90" width="2.40" height="2.50" rx="0.4"/><rect class="sg" x="241.20" y="495.90" width="2.40" height="2.50" rx="0.4"/><rect class="sb" x="237.40" y="499.20" width="2.40" height="2.50" rx="0.4"/><rect class="sb" x="241.20" y="499.20" width="2.40" height="2.50" rx="0.4"/><rect class="sg" x="256.40" y="495.90" width="2.40" height="2.50" rx="0.4"/><rect class="sg" x="260.20" y="495.90" width="2.40" height="2.50" rx="0.4"/><rect class="sb" x="256.40" y="499.20" width="2.40" height="2.50" rx="0.4"/><rect class="sb" x="260.20" y="499.20" width="2.40" height="2.50" rx="0.4"/><rect class="sg" x="275.40" y="495.90" width="2.40" height="2.50" rx="0.4"/><rect class="sg" x="279.20" y="495.90" width="2.40" height="2.50" rx="0.4"/><rect class="sb" x="275.40" y="499.20" width="2.40" height="2.50" rx="0.4"/><rect class="sb" x="279.20" y="499.20" width="2.40" height="2.50" rx="0.4"/><rect class="sg" x="298.40" y="495.90" width="2.40" height="2.50" rx="0.4"/><rect class="sg" x="302.20" y="495.90" width="2.40" height="2.50" rx="0.4"/><rect class="sb" x="298.40" y="499.20" width="2.40" height="2.50" rx="0.4"/><rect class="sb" x="302.20" y="499.20" width="2.40" height="2.50" rx="0.4"/><rect class="sg" x="319.40" y="495.90" width="2.40" height="2.50" rx="0.4"/><rect class="sg" x="323.20" y="495.90" width="2.40" height="2.50" rx="0.4"/><rect class="sb" x="319.40" y="499.20" width="2.40" height="2.50" rx="0.4"/><rect class="sb" x="323.20" y="499.20" width="2.40" height="2.50" rx="0.4"/><rect class="sb" x="340.40" y="495.90" width="2.40" height="2.50" rx="0.4"/><rect class="sg" x="344.20" y="495.90" width="2.40" height="2.50" rx="0.4"/><rect class="sb" x="340.40" y="499.20" width="2.40" height="2.50" rx="0.4"/><rect class="sb" x="344.20" y="499.20" width="2.40" height="2.50" rx="0.4"/><rect class="sb" x="362.40" y="495.90" width="2.40" height="2.50" rx="0.4"/><rect class="sg" x="366.20" y="495.90" width="2.40" height="2.50" rx="0.4"/><rect class="sb" x="362.40" y="499.20" width="2.40" height="2.50" rx="0.4"/><rect class="sb" x="366.20" y="499.20" width="2.40" height="2.50" rx="0.4"/><text x="67.3" y="513.2" font-family='"Liberation Serif", "Times New Roman", serif' font-size="10" letter-spacing="0.25" fill="#1e1e1e" stroke="#1e1e1e" stroke-width="0.2">Tsandi</text><rect class="sb" x="131.40" y="508.90" width="2.40" height="2.50" rx="0.4"/><rect class="sg" x="135.20" y="508.90" width="2.40" height="2.50" rx="0.4"/><rect class="sb" x="131.40" y="512.20" width="2.40" height="2.50" rx="0.4"/><rect class="sb" x="135.20" y="512.20" width="2.40" height="2.50" rx="0.4"/><rect class="sb" x="151.40" y="508.90" width="2.40" height="2.50" rx="0.4"/><rect class="sb" x="155.20" y="508.90" width="2.40" height="2.50" rx="0.4"/><rect class="sb" x="151.40" y="512.20" width="2.40" height="2.50" rx="0.4"/><rect class="sb" x="155.20" y="512.20" width="2.40" height="2.50" rx="0.4"/><rect class="sb" x="172.40" y="508.90" width="2.40" height="2.50" rx="0.4"/><rect class="sb" x="176.20" y="508.90" width="2.40" height="2.50" rx="0.4"/><rect class="sb" x="172.40" y="512.20" width="2.40" height="2.50" rx="0.4"/><rect class="sb" x="176.20" y="512.20" width="2.40" height="2.50" rx="0.4"/><rect class="sb" x="194.40" y="508.90" width="2.40" height="2.50" rx="0.4"/><rect class="sg" x="198.20" y="508.90" width="2.40" height="2.50" rx="0.4"/><rect class="sb" x="194.40" y="512.20" width="2.40" height="2.50" rx="0.4"/><rect class="sb" x="198.20" y="512.20" width="2.40" height="2.50" rx="0.4"/><rect class="sb" x="216.40" y="508.90" width="2.40" height="2.50" rx="0.4"/><rect class="sg" x="220.20" y="508.90" width="2.40" height="2.50" rx="0.4"/><rect class="sb" x="216.40" y="512.20" width="2.40" height="2.50" rx="0.4"/><rect class="sb" x="220.20" y="512.20" width="2.40" height="2.50" rx="0.4"/><rect class="sb" x="237.40" y="508.90" width="2.40" height="2.50" rx="0.4"/><rect class="sg" x="241.20" y="508.90" width="2.40" height="2.50" rx="0.4"/><rect class="sb" x="237.40" y="512.20" width="2.40" height="2.50" rx="0.4"/><rect class="sb" x="241.20" y="512.20" width="2.40" height="2.50" rx="0.4"/><rect class="sb" x="256.40" y="508.90" width="2.40" height="2.50" rx="0.4"/><rect class="sg" x="260.20" y="508.90" width="2.40" height="2.50" rx="0.4"/><rect class="sb" x="256.40" y="512.20" width="2.40" height="2.50" rx="0.4"/><rect class="sb" x="260.20" y="512.20" width="2.40" height="2.50" rx="0.4"/><rect class="sb" x="275.40" y="508.90" width="2.40" height="2.50" rx="0.4"/><rect class="sg" x="279.20" y="508.90" width="2.40" height="2.50" rx="0.4"/><rect class="sb" x="275.40" y="512.20" width="2.40" height="2.50" rx="0.4"/><rect class="sb" x="279.20" y="512.20" width="2.40" height="2.50" rx="0.4"/><rect class="sb" x="298.40" y="508.90" width="2.40" height="2.50" rx="0.4"/><rect class="sg" x="302.20" y="508.90" width="2.40" height="2.50" rx="0.4"/><rect class="sb" x="298.40" y="512.20" width="2.40" height="2.50" rx="0.4"/><rect class="sb" x="302.20" y="512.20" width="2.40" height="2.50" rx="0.4"/><rect class="sb" x="319.40" y="508.90" width="2.40" height="2.50" rx="0.4"/><rect class="sg" x="323.20" y="508.90" width="2.40" height="2.50" rx="0.4"/><rect class="sb" x="319.40" y="512.20" width="2.40" height="2.50" rx="0.4"/><rect class="sb" x="323.20" y="512.20" width="2.40" height="2.50" rx="0.4"/><rect class="sb" x="340.40" y="508.90" width="2.40" height="2.50" rx="0.4"/><rect class="sg" x="344.20" y="508.90" width="2.40" height="2.50" rx="0.4"/><rect class="sb" x="340.40" y="512.20" width="2.40" height="2.50" rx="0.4"/><rect class="sb" x="344.20" y="512.20" width="2.40" height="2.50" rx="0.4"/><rect class="sb" x="362.40" y="508.90" width="2.40" height="2.50" rx="0.4"/><rect class="sg" x="366.20" y="508.90" width="2.40" height="2.50" rx="0.4"/><rect class="sb" x="362.40" y="512.20" width="2.40" height="2.50" rx="0.4"/><rect class="sb" x="366.20" y="512.20" width="2.40" height="2.50" rx="0.4"/><text x="3.6" y="526.0" font-family='"Liberation Serif", "Times New Roman", serif' font-size="10" letter-spacing="0.25" fill="#1e1e1e" stroke="#1e1e1e" stroke-width="0.2">Oshana</text><text x="67.3" y="526.0" font-family='"Liberation Serif", "Times New Roman", serif' font-size="10" letter-spacing="0.25" fill="#1e1e1e" stroke="#1e1e1e" stroke-width="0.2">Oshakati</text><rect class="sb" x="131.40" y="521.40" width="2.40" height="2.50" rx="0.4"/><rect class="sg" x="135.20" y="521.40" width="2.40" height="2.50" rx="0.4"/><rect class="sb" x="131.40" y="524.70" width="2.40" height="2.50" rx="0.4"/><rect class="sb" x="135.20" y="524.70" width="2.40" height="2.50" rx="0.4"/><rect class="sb" x="151.40" y="521.40" width="2.40" height="2.50" rx="0.4"/><rect class="sg" x="155.20" y="521.40" width="2.40" height="2.50" rx="0.4"/><rect class="sb" x="151.40" y="524.70" width="2.40" height="2.50" rx="0.4"/><rect class="sb" x="155.20" y="524.70" width="2.40" height="2.50" rx="0.4"/><rect class="sb" x="172.40" y="521.40" width="2.40" height="2.50" rx="0.4"/><rect class="sg" x="176.20" y="521.40" width="2.40" height="2.50" rx="0.4"/><rect class="sb" x="172.40" y="524.70" width="2.40" height="2.50" rx="0.4"/><rect class="sb" x="176.20" y="524.70" width="2.40" height="2.50" rx="0.4"/><rect class="sb" x="194.40" y="521.40" width="2.40" height="2.50" rx="0.4"/><rect class="sg" x="198.20" y="521.40" width="2.40" height="2.50" rx="0.4"/><rect class="sb" x="194.40" y="524.70" width="2.40" height="2.50" rx="0.4"/><rect class="sb" x="198.20" y="524.70" width="2.40" height="2.50" rx="0.4"/><rect class="sg" x="216.40" y="521.40" width="2.40" height="2.50" rx="0.4"/><rect class="sg" x="220.20" y="521.40" width="2.40" height="2.50" rx="0.4"/><rect class="sb" x="216.40" y="524.70" width="2.40" height="2.50" rx="0.4"/><rect class="sb" x="220.20" y="524.70" width="2.40" height="2.50" rx="0.4"/><rect class="sg" x="237.40" y="521.40" width="2.40" height="2.50" rx="0.4"/><rect class="sg" x="241.20" y="521.40" width="2.40" height="2.50" rx="0.4"/><rect class="sb" x="237.40" y="524.70" width="2.40" height="2.50" rx="0.4"/><rect class="sb" x="241.20" y="524.70" width="2.40" height="2.50" rx="0.4"/><rect class="sg" x="256.40" y="521.40" width="2.40" height="2.50" rx="0.4"/><rect class="sg" x="260.20" y="521.40" width="2.40" height="2.50" rx="0.4"/><rect class="sb" x="256.40" y="524.70" width="2.40" height="2.50" rx="0.4"/><rect class="sb" x="260.20" y="524.70" width="2.40" height="2.50" rx="0.4"/><rect class="sg" x="275.40" y="521.40" width="2.40" height="2.50" rx="0.4"/><rect class="sg" x="279.20" y="521.40" width="2.40" height="2.50" rx="0.4"/><rect class="sb" x="275.40" y="524.70" width="2.40" height="2.50" rx="0.4"/><rect class="sb" x="279.20" y="524.70" width="2.40" height="2.50" rx="0.4"/><rect class="sg" x="298.40" y="521.40" width="2.40" height="2.50" rx="0.4"/><rect class="sg" x="302.20" y="521.40" width="2.40" height="2.50" rx="0.4"/><rect class="sb" x="298.40" y="524.70" width="2.40" height="2.50" rx="0.4"/><rect class="sb" x="302.20" y="524.70" width="2.40" height="2.50" rx="0.4"/><rect class="sg" x="319.40" y="521.40" width="2.40" height="2.50" rx="0.4"/><rect class="sg" x="323.20" y="521.40" width="2.40" height="2.50" rx="0.4"/><rect class="sb" x="319.40" y="524.70" width="2.40" height="2.50" rx="0.4"/><rect class="sb" x="323.20" y="524.70" width="2.40" height="2.50" rx="0.4"/><rect class="sb" x="340.40" y="521.40" width="2.40" height="2.50" rx="0.4"/><rect class="sg" x="344.20" y="521.40" width="2.40" height="2.50" rx="0.4"/><rect class="sb" x="340.40" y="524.70" width="2.40" height="2.50" rx="0.4"/><rect class="sb" x="344.20" y="524.70" width="2.40" height="2.50" rx="0.4"/><rect class="sb" x="362.40" y="521.40" width="2.40" height="2.50" rx="0.4"/><rect class="sg" x="366.20" y="521.40" width="2.40" height="2.50" rx="0.4"/><rect class="sb" x="362.40" y="524.70" width="2.40" height="2.50" rx="0.4"/><rect class="sb" x="366.20" y="524.70" width="2.40" height="2.50" rx="0.4"/><text x="3.6" y="538.8" font-family='"Liberation Serif", "Times New Roman", serif' font-size="10" letter-spacing="0.25" fill="#1e1e1e" stroke="#1e1e1e" stroke-width="0.2">Oshikoto</text><text x="67.3" y="538.8" font-family='"Liberation Serif", "Times New Roman", serif' font-size="10" letter-spacing="0.25" fill="#1e1e1e" stroke="#1e1e1e" stroke-width="0.2">Onandjokwe</text><rect class="sb" x="131.40" y="534.40" width="2.40" height="2.50" rx="0.4"/><rect class="sg" x="135.20" y="534.40" width="2.40" height="2.50" rx="0.4"/><rect class="sb" x="131.40" y="537.70" width="2.40" height="2.50" rx="0.4"/><rect class="sb" x="135.20" y="537.70" width="2.40" height="2.50" rx="0.4"/><rect class="sb" x="151.40" y="534.40" width="2.40" height="2.50" rx="0.4"/><rect class="sg" x="155.20" y="534.40" width="2.40" height="2.50" rx="0.4"/><rect class="sb" x="151.40" y="537.70" width="2.40" height="2.50" rx="0.4"/><rect class="sb" x="155.20" y="537.70" width="2.40" height="2.50" rx="0.4"/><rect class="sb" x="172.40" y="534.40" width="2.40" height="2.50" rx="0.4"/><rect class="sg" x="176.20" y="534.40" width="2.40" height="2.50" rx="0.4"/><rect class="sb" x="172.40" y="537.70" width="2.40" height="2.50" rx="0.4"/><rect class="sb" x="176.20" y="537.70" width="2.40" height="2.50" rx="0.4"/><rect class="sg" x="194.40" y="534.40" width="2.40" height="2.50" rx="0.4"/><rect class="sg" x="198.20" y="534.40" width="2.40" height="2.50" rx="0.4"/><rect class="sb" x="194.40" y="537.70" width="2.40" height="2.50" rx="0.4"/><rect class="sb" x="198.20" y="537.70" width="2.40" height="2.50" rx="0.4"/><rect class="sg" x="216.40" y="534.40" width="2.40" height="2.50" rx="0.4"/><rect class="sg" x="220.20" y="534.40" width="2.40" height="2.50" rx="0.4"/><rect class="sb" x="216.40" y="537.70" width="2.40" height="2.50" rx="0.4"/><rect class="sb" x="220.20" y="537.70" width="2.40" height="2.50" rx="0.4"/><rect class="sg" x="237.40" y="534.40" width="2.40" height="2.50" rx="0.4"/><rect class="sg" x="241.20" y="534.40" width="2.40" height="2.50" rx="0.4"/><rect class="sb" x="237.40" y="537.70" width="2.40" height="2.50" rx="0.4"/><rect class="sb" x="241.20" y="537.70" width="2.40" height="2.50" rx="0.4"/><rect class="sg" x="256.40" y="534.40" width="2.40" height="2.50" rx="0.4"/><rect class="sg" x="260.20" y="534.40" width="2.40" height="2.50" rx="0.4"/><rect class="sb" x="256.40" y="537.70" width="2.40" height="2.50" rx="0.4"/><rect class="sb" x="260.20" y="537.70" width="2.40" height="2.50" rx="0.4"/><rect class="sg" x="275.40" y="534.40" width="2.40" height="2.50" rx="0.4"/><rect class="sg" x="279.20" y="534.40" width="2.40" height="2.50" rx="0.4"/><rect class="sb" x="275.40" y="537.70" width="2.40" height="2.50" rx="0.4"/><rect class="sb" x="279.20" y="537.70" width="2.40" height="2.50" rx="0.4"/><rect class="sg" x="298.40" y="534.40" width="2.40" height="2.50" rx="0.4"/><rect class="sg" x="302.20" y="534.40" width="2.40" height="2.50" rx="0.4"/><rect class="sb" x="298.40" y="537.70" width="2.40" height="2.50" rx="0.4"/><rect class="sb" x="302.20" y="537.70" width="2.40" height="2.50" rx="0.4"/><rect class="sg" x="319.40" y="534.40" width="2.40" height="2.50" rx="0.4"/><rect class="sg" x="323.20" y="534.40" width="2.40" height="2.50" rx="0.4"/><rect class="sb" x="319.40" y="537.70" width="2.40" height="2.50" rx="0.4"/><rect class="sb" x="323.20" y="537.70" width="2.40" height="2.50" rx="0.4"/><rect class="sg" x="340.40" y="534.40" width="2.40" height="2.50" rx="0.4"/><rect class="sg" x="344.20" y="534.40" width="2.40" height="2.50" rx="0.4"/><rect class="sb" x="340.40" y="537.70" width="2.40" height="2.50" rx="0.4"/><rect class="sb" x="344.20" y="537.70" width="2.40" height="2.50" rx="0.4"/><rect class="sb" x="362.40" y="534.40" width="2.40" height="2.50" rx="0.4"/><rect class="sg" x="366.20" y="534.40" width="2.40" height="2.50" rx="0.4"/><rect class="sb" x="362.40" y="537.70" width="2.40" height="2.50" rx="0.4"/><rect class="sb" x="366.20" y="537.70" width="2.40" height="2.50" rx="0.4"/><text x="67.3" y="551.6" font-family='"Liberation Serif", "Times New Roman", serif' font-size="10" letter-spacing="0.25" fill="#1e1e1e" stroke="#1e1e1e" stroke-width="0.2">Tsumeb</text><rect class="sb" x="131.40" y="546.90" width="2.40" height="2.50" rx="0.4"/><rect class="sg" x="135.20" y="546.90" width="2.40" height="2.50" rx="0.4"/><rect class="sb" x="131.40" y="550.20" width="2.40" height="2.50" rx="0.4"/><rect class="sb" x="135.20" y="550.20" width="2.40" height="2.50" rx="0.4"/><rect class="sb" x="151.40" y="546.90" width="2.40" height="2.50" rx="0.4"/><rect class="sg" x="155.20" y="546.90" width="2.40" height="2.50" rx="0.4"/><rect class="sb" x="151.40" y="550.20" width="2.40" height="2.50" rx="0.4"/><rect class="sb" x="155.20" y="550.20" width="2.40" height="2.50" rx="0.4"/><rect class="sb" x="172.40" y="546.90" width="2.40" height="2.50" rx="0.4"/><rect class="sg" x="176.20" y="546.90" width="2.40" height="2.50" rx="0.4"/><rect class="sb" x="172.40" y="550.20" width="2.40" height="2.50" rx="0.4"/><rect class="sb" x="176.20" y="550.20" width="2.40" height="2.50" rx="0.4"/><rect class="sg" x="194.40" y="546.90" width="2.40" height="2.50" rx="0.4"/><rect class="sg" x="198.20" y="546.90" width="2.40" height="2.50" rx="0.4"/><rect class="sb" x="194.40" y="550.20" width="2.40" height="2.50" rx="0.4"/><rect class="sb" x="198.20" y="550.20" width="2.40" height="2.50" rx="0.4"/><rect class="sg" x="216.40" y="546.90" width="2.40" height="2.50" rx="0.4"/><rect class="sg" x="220.20" y="546.90" width="2.40" height="2.50" rx="0.4"/><rect class="sb" x="216.40" y="550.20" width="2.40" height="2.50" rx="0.4"/><rect class="sb" x="220.20" y="550.20" width="2.40" height="2.50" rx="0.4"/><rect class="sg" x="237.40" y="546.90" width="2.40" height="2.50" rx="0.4"/><rect class="sg" x="241.20" y="546.90" width="2.40" height="2.50" rx="0.4"/><rect class="sb" x="237.40" y="550.20" width="2.40" height="2.50" rx="0.4"/><rect class="sb" x="241.20" y="550.20" width="2.40" height="2.50" rx="0.4"/><rect class="sg" x="256.40" y="546.90" width="2.40" height="2.50" rx="0.4"/><rect class="sg" x="260.20" y="546.90" width="2.40" height="2.50" rx="0.4"/><rect class="sb" x="256.40" y="550.20" width="2.40" height="2.50" rx="0.4"/><rect class="sb" x="260.20" y="550.20" width="2.40" height="2.50" rx="0.4"/><rect class="sg" x="275.40" y="546.90" width="2.40" height="2.50" rx="0.4"/><rect class="sg" x="279.20" y="546.90" width="2.40" height="2.50" rx="0.4"/><rect class="sb" x="275.40" y="550.20" width="2.40" height="2.50" rx="0.4"/><rect class="sb" x="279.20" y="550.20" width="2.40" height="2.50" rx="0.4"/><rect class="sg" x="298.40" y="546.90" width="2.40" height="2.50" rx="0.4"/><rect class="sg" x="302.20" y="546.90" width="2.40" height="2.50" rx="0.4"/><rect class="sb" x="298.40" y="550.20" width="2.40" height="2.50" rx="0.4"/><rect class="sb" x="302.20" y="550.20" width="2.40" height="2.50" rx="0.4"/><rect class="sg" x="319.40" y="546.90" width="2.40" height="2.50" rx="0.4"/><rect class="sg" x="323.20" y="546.90" width="2.40" height="2.50" rx="0.4"/><rect class="sb" x="319.40" y="550.20" width="2.40" height="2.50" rx="0.4"/><rect class="sb" x="323.20" y="550.20" width="2.40" height="2.50" rx="0.4"/><rect class="sg" x="340.40" y="546.90" width="2.40" height="2.50" rx="0.4"/><rect class="sg" x="344.20" y="546.90" width="2.40" height="2.50" rx="0.4"/><rect class="sb" x="340.40" y="550.20" width="2.40" height="2.50" rx="0.4"/><rect class="sb" x="344.20" y="550.20" width="2.40" height="2.50" rx="0.4"/><rect class="sb" x="362.40" y="546.90" width="2.40" height="2.50" rx="0.4"/><rect class="sg" x="366.20" y="546.90" width="2.40" height="2.50" rx="0.4"/><rect class="sb" x="362.40" y="550.20" width="2.40" height="2.50" rx="0.4"/><rect class="sb" x="366.20" y="550.20" width="2.40" height="2.50" rx="0.4"/><text x="3.6" y="564.3" font-family='"Liberation Serif", "Times New Roman", serif' font-size="10" letter-spacing="0.25" fill="#1e1e1e" stroke="#1e1e1e" stroke-width="0.2">Otjozondjupa</text><text x="67.3" y="564.3" font-family='"Liberation Serif", "Times New Roman", serif' font-size="10" letter-spacing="0.25" fill="#1e1e1e" stroke="#1e1e1e" stroke-width="0.2">Grootfontein</text><rect class="sg" x="131.40" y="559.90" width="2.40" height="2.50" rx="0.4"/><rect class="sg" x="135.20" y="559.90" width="2.40" height="2.50" rx="0.4"/><rect class="sg" x="131.40" y="563.20" width="2.40" height="2.50" rx="0.4"/><rect class="sg" x="135.20" y="563.20" width="2.40" height="2.50" rx="0.4"/><rect class="sg" x="151.40" y="559.90" width="2.40" height="2.50" rx="0.4"/><rect class="sg" x="155.20" y="559.90" width="2.40" height="2.50" rx="0.4"/><rect class="sg" x="151.40" y="563.20" width="2.40" height="2.50" rx="0.4"/><rect class="sg" x="155.20" y="563.20" width="2.40" height="2.50" rx="0.4"/><rect class="sg" x="172.40" y="559.90" width="2.40" height="2.50" rx="0.4"/><rect class="sg" x="176.20" y="559.90" width="2.40" height="2.50" rx="0.4"/><rect class="sg" x="172.40" y="563.20" width="2.40" height="2.50" rx="0.4"/><rect class="sg" x="176.20" y="563.20" width="2.40" height="2.50" rx="0.4"/><rect class="sg" x="194.40" y="559.90" width="2.40" height="2.50" rx="0.4"/><rect class="sg" x="198.20" y="559.90" width="2.40" height="2.50" rx="0.4"/><rect class="sg" x="194.40" y="563.20" width="2.40" height="2.50" rx="0.4"/><rect class="sg" x="198.20" y="563.20" width="2.40" height="2.50" rx="0.4"/><rect class="sg" x="216.40" y="559.90" width="2.40" height="2.50" rx="0.4"/><rect class="sg" x="220.20" y="559.90" width="2.40" height="2.50" rx="0.4"/><rect class="sg" x="216.40" y="563.20" width="2.40" height="2.50" rx="0.4"/><rect class="sg" x="220.20" y="563.20" width="2.40" height="2.50" rx="0.4"/><rect class="sg" x="237.40" y="559.90" width="2.40" height="2.50" rx="0.4"/><rect class="sg" x="241.20" y="559.90" width="2.40" height="2.50" rx="0.4"/><rect class="sg" x="237.40" y="563.20" width="2.40" height="2.50" rx="0.4"/><rect class="sg" x="241.20" y="563.20" width="2.40" height="2.50" rx="0.4"/><rect class="sg" x="256.40" y="559.90" width="2.40" height="2.50" rx="0.4"/><rect class="sg" x="260.20" y="559.90" width="2.40" height="2.50" rx="0.4"/><rect class="sg" x="256.40" y="563.20" width="2.40" height="2.50" rx="0.4"/><rect class="sg" x="260.20" y="563.20" width="2.40" height="2.50" rx="0.4"/><rect class="sg" x="275.40" y="559.90" width="2.40" height="2.50" rx="0.4"/><rect class="sg" x="279.20" y="559.90" width="2.40" height="2.50" rx="0.4"/><rect class="sg" x="275.40" y="563.20" width="2.40" height="2.50" rx="0.4"/><rect class="sg" x="279.20" y="563.20" width="2.40" height="2.50" rx="0.4"/><rect class="sg" x="298.40" y="559.90" width="2.40" height="2.50" rx="0.4"/><rect class="sg" x="302.20" y="559.90" width="2.40" height="2.50" rx="0.4"/><rect class="sg" x="298.40" y="563.20" width="2.40" height="2.50" rx="0.4"/><rect class="sg" x="302.20" y="563.20" width="2.40" height="2.50" rx="0.4"/><rect class="sg" x="319.40" y="559.90" width="2.40" height="2.50" rx="0.4"/><rect class="sg" x="323.20" y="559.90" width="2.40" height="2.50" rx="0.4"/><rect class="sg" x="319.40" y="563.20" width="2.40" height="2.50" rx="0.4"/><rect class="sg" x="323.20" y="563.20" width="2.40" height="2.50" rx="0.4"/><rect class="sg" x="340.40" y="559.90" width="2.40" height="2.50" rx="0.4"/><rect class="sg" x="344.20" y="559.90" width="2.40" height="2.50" rx="0.4"/><rect class="sg" x="340.40" y="563.20" width="2.40" height="2.50" rx="0.4"/><rect class="sg" x="344.20" y="563.20" width="2.40" height="2.50" rx="0.4"/><rect class="sg" x="362.40" y="559.90" width="2.40" height="2.50" rx="0.4"/><rect class="sg" x="366.20" y="559.90" width="2.40" height="2.50" rx="0.4"/><rect class="sg" x="362.40" y="563.20" width="2.40" height="2.50" rx="0.4"/><rect class="sg" x="366.20" y="563.20" width="2.40" height="2.50" rx="0.4"/><text x="67.3" y="577.1" font-family='"Liberation Serif", "Times New Roman", serif' font-size="10" letter-spacing="0.25" fill="#1e1e1e" stroke="#1e1e1e" stroke-width="0.2">Okahandja</text><rect class="sg" x="131.40" y="572.40" width="2.40" height="2.50" rx="0.4"/><rect class="sg" x="135.20" y="572.40" width="2.40" height="2.50" rx="0.4"/><rect class="sb" x="131.40" y="575.70" width="2.40" height="2.50" rx="0.4"/><rect class="sg" x="135.20" y="575.70" width="2.40" height="2.50" rx="0.4"/><rect class="sg" x="151.40" y="572.40" width="2.40" height="2.50" rx="0.4"/><rect class="sg" x="155.20" y="572.40" width="2.40" height="2.50" rx="0.4"/><rect class="sb" x="151.40" y="575.70" width="2.40" height="2.50" rx="0.4"/><rect class="sg" x="155.20" y="575.70" width="2.40" height="2.50" rx="0.4"/><rect class="sg" x="172.40" y="572.40" width="2.40" height="2.50" rx="0.4"/><rect class="sg" x="176.20" y="572.40" width="2.40" height="2.50" rx="0.4"/><rect class="sb" x="172.40" y="575.70" width="2.40" height="2.50" rx="0.4"/><rect class="sg" x="176.20" y="575.70" width="2.40" height="2.50" rx="0.4"/><rect class="sg" x="194.40" y="572.40" width="2.40" height="2.50" rx="0.4"/><rect class="sg" x="198.20" y="572.40" width="2.40" height="2.50" rx="0.4"/><rect class="sg" x="194.40" y="575.70" width="2.40" height="2.50" rx="0.4"/><rect class="sg" x="198.20" y="575.70" width="2.40" height="2.50" rx="0.4"/><rect class="sg" x="216.40" y="572.40" width="2.40" height="2.50" rx="0.4"/><rect class="sg" x="220.20" y="572.40" width="2.40" height="2.50" rx="0.4"/><rect class="sg" x="216.40" y="575.70" width="2.40" height="2.50" rx="0.4"/><rect class="sg" x="220.20" y="575.70" width="2.40" height="2.50" rx="0.4"/><rect class="sg" x="237.40" y="572.40" width="2.40" height="2.50" rx="0.4"/><rect class="sg" x="241.20" y="572.40" width="2.40" height="2.50" rx="0.4"/><rect class="sg" x="237.40" y="575.70" width="2.40" height="2.50" rx="0.4"/><rect class="sg" x="241.20" y="575.70" width="2.40" height="2.50" rx="0.4"/><rect class="sg" x="256.40" y="572.40" width="2.40" height="2.50" rx="0.4"/><rect class="sg" x="260.20" y="572.40" width="2.40" height="2.50" rx="0.4"/><rect class="sg" x="256.40" y="575.70" width="2.40" height="2.50" rx="0.4"/><rect class="sg" x="260.20" y="575.70" width="2.40" height="2.50" rx="0.4"/><rect class="sg" x="275.40" y="572.40" width="2.40" height="2.50" rx="0.4"/><rect class="sg" x="279.20" y="572.40" width="2.40" height="2.50" rx="0.4"/><rect class="sg" x="275.40" y="575.70" width="2.40" height="2.50" rx="0.4"/><rect class="sg" x="279.20" y="575.70" width="2.40" height="2.50" rx="0.4"/><rect class="sg" x="298.40" y="572.40" width="2.40" height="2.50" rx="0.4"/><rect class="sg" x="302.20" y="572.40" width="2.40" height="2.50" rx="0.4"/><rect class="sg" x="298.40" y="575.70" width="2.40" height="2.50" rx="0.4"/><rect class="sg" x="302.20" y="575.70" width="2.40" height="2.50" rx="0.4"/><rect class="sg" x="319.40" y="572.40" width="2.40" height="2.50" rx="0.4"/><rect class="sg" x="323.20" y="572.40" width="2.40" height="2.50" rx="0.4"/><rect class="sg" x="319.40" y="575.70" width="2.40" height="2.50" rx="0.4"/><rect class="sg" x="323.20" y="575.70" width="2.40" height="2.50" rx="0.4"/><rect class="sg" x="340.40" y="572.40" width="2.40" height="2.50" rx="0.4"/><rect class="sg" x="344.20" y="572.40" width="2.40" height="2.50" rx="0.4"/><rect class="sg" x="340.40" y="575.70" width="2.40" height="2.50" rx="0.4"/><rect class="sg" x="344.20" y="575.70" width="2.40" height="2.50" rx="0.4"/><rect class="sg" x="362.40" y="572.40" width="2.40" height="2.50" rx="0.4"/><rect class="sg" x="366.20" y="572.40" width="2.40" height="2.50" rx="0.4"/><rect class="sb" x="362.40" y="575.70" width="2.40" height="2.50" rx="0.4"/><rect class="sg" x="366.20" y="575.70" width="2.40" height="2.50" rx="0.4"/><text x="67.3" y="589.9" font-family='"Liberation Serif", "Times New Roman", serif' font-size="10" letter-spacing="0.25" fill="#1e1e1e" stroke="#1e1e1e" stroke-width="0.2">Okakarara</text><rect class="sg" x="131.40" y="585.40" width="2.40" height="2.50" rx="0.4"/><rect class="sg" x="135.20" y="585.40" width="2.40" height="2.50" rx="0.4"/><rect class="sb" x="131.40" y="588.70" width="2.40" height="2.50" rx="0.4"/><rect class="sg" x="135.20" y="588.70" width="2.40" height="2.50" rx="0.4"/><rect class="sg" x="151.40" y="585.40" width="2.40" height="2.50" rx="0.4"/><rect class="sg" x="155.20" y="585.40" width="2.40" height="2.50" rx="0.4"/><rect class="sb" x="151.40" y="588.70" width="2.40" height="2.50" rx="0.4"/><rect class="sg" x="155.20" y="588.70" width="2.40" height="2.50" rx="0.4"/><rect class="sg" x="172.40" y="585.40" width="2.40" height="2.50" rx="0.4"/><rect class="sg" x="176.20" y="585.40" width="2.40" height="2.50" rx="0.4"/><rect class="sg" x="172.40" y="588.70" width="2.40" height="2.50" rx="0.4"/><rect class="sg" x="176.20" y="588.70" width="2.40" height="2.50" rx="0.4"/><rect class="sg" x="194.40" y="585.40" width="2.40" height="2.50" rx="0.4"/><rect class="sg" x="198.20" y="585.40" width="2.40" height="2.50" rx="0.4"/><rect class="sg" x="194.40" y="588.70" width="2.40" height="2.50" rx="0.4"/><rect class="sg" x="198.20" y="588.70" width="2.40" height="2.50" rx="0.4"/><rect class="sg" x="216.40" y="585.40" width="2.40" height="2.50" rx="0.4"/><rect class="sg" x="220.20" y="585.40" width="2.40" height="2.50" rx="0.4"/><rect class="sg" x="216.40" y="588.70" width="2.40" height="2.50" rx="0.4"/><rect class="sg" x="220.20" y="588.70" width="2.40" height="2.50" rx="0.4"/><rect class="sg" x="237.40" y="585.40" width="2.40" height="2.50" rx="0.4"/><rect class="sg" x="241.20" y="585.40" width="2.40" height="2.50" rx="0.4"/><rect class="sg" x="237.40" y="588.70" width="2.40" height="2.50" rx="0.4"/><rect class="sg" x="241.20" y="588.70" width="2.40" height="2.50" rx="0.4"/><rect class="sg" x="256.40" y="585.40" width="2.40" height="2.50" rx="0.4"/><rect class="sg" x="260.20" y="585.40" width="2.40" height="2.50" rx="0.4"/><rect class="sg" x="256.40" y="588.70" width="2.40" height="2.50" rx="0.4"/><rect class="sg" x="260.20" y="588.70" width="2.40" height="2.50" rx="0.4"/><rect class="sg" x="275.40" y="585.40" width="2.40" height="2.50" rx="0.4"/><rect class="sg" x="279.20" y="585.40" width="2.40" height="2.50" rx="0.4"/><rect class="sg" x="275.40" y="588.70" width="2.40" height="2.50" rx="0.4"/><rect class="sg" x="279.20" y="588.70" width="2.40" height="2.50" rx="0.4"/><rect class="sg" x="298.40" y="585.40" width="2.40" height="2.50" rx="0.4"/><rect class="sg" x="302.20" y="585.40" width="2.40" height="2.50" rx="0.4"/><rect class="sg" x="298.40" y="588.70" width="2.40" height="2.50" rx="0.4"/><rect class="sg" x="302.20" y="588.70" width="2.40" height="2.50" rx="0.4"/><rect class="sg" x="319.40" y="585.40" width="2.40" height="2.50" rx="0.4"/><rect class="sg" x="323.20" y="585.40" width="2.40" height="2.50" rx="0.4"/><rect class="sg" x="319.40" y="588.70" width="2.40" height="2.50" rx="0.4"/><rect class="sg" x="323.20" y="588.70" width="2.40" height="2.50" rx="0.4"/><rect class="sg" x="340.40" y="585.40" width="2.40" height="2.50" rx="0.4"/><rect class="sg" x="344.20" y="585.40" width="2.40" height="2.50" rx="0.4"/><rect class="sg" x="340.40" y="588.70" width="2.40" height="2.50" rx="0.4"/><rect class="sg" x="344.20" y="588.70" width="2.40" height="2.50" rx="0.4"/><rect class="sg" x="362.40" y="585.40" width="2.40" height="2.50" rx="0.4"/><rect class="sg" x="366.20" y="585.40" width="2.40" height="2.50" rx="0.4"/><rect class="sg" x="362.40" y="588.70" width="2.40" height="2.50" rx="0.4"/><rect class="sg" x="366.20" y="588.70" width="2.40" height="2.50" rx="0.4"/><text x="67.3" y="602.6" font-family='"Liberation Serif", "Times New Roman", serif' font-size="10" letter-spacing="0.25" fill="#1e1e1e" stroke="#1e1e1e" stroke-width="0.2">Otjiwarongo</text><rect class="sb" x="131.40" y="597.90" width="2.40" height="2.50" rx="0.4"/><rect class="sg" x="135.20" y="597.90" width="2.40" height="2.50" rx="0.4"/><rect class="sb" x="131.40" y="601.20" width="2.40" height="2.50" rx="0.4"/><rect class="sb" x="135.20" y="601.20" width="2.40" height="2.50" rx="0.4"/><rect class="sb" x="151.40" y="597.90" width="2.40" height="2.50" rx="0.4"/><rect class="sg" x="155.20" y="597.90" width="2.40" height="2.50" rx="0.4"/><rect class="sb" x="151.40" y="601.20" width="2.40" height="2.50" rx="0.4"/><rect class="sb" x="155.20" y="601.20" width="2.40" height="2.50" rx="0.4"/><rect class="sb" x="172.40" y="597.90" width="2.40" height="2.50" rx="0.4"/><rect class="sg" x="176.20" y="597.90" width="2.40" height="2.50" rx="0.4"/><rect class="sb" x="172.40" y="601.20" width="2.40" height="2.50" rx="0.4"/><rect class="sb" x="176.20" y="601.20" width="2.40" height="2.50" rx="0.4"/><rect class="sg" x="194.40" y="597.90" width="2.40" height="2.50" rx="0.4"/><rect class="sg" x="198.20" y="597.90" width="2.40" height="2.50" rx="0.4"/><rect class="sb" x="194.40" y="601.20" width="2.40" height="2.50" rx="0.4"/><rect class="sb" x="198.20" y="601.20" width="2.40" height="2.50" rx="0.4"/><rect class="sg" x="216.40" y="597.90" width="2.40" height="2.50" rx="0.4"/><rect class="sg" x="220.20" y="597.90" width="2.40" height="2.50" rx="0.4"/><rect class="sb" x="216.40" y="601.20" width="2.40" height="2.50" rx="0.4"/><rect class="sb" x="220.20" y="601.20" width="2.40" height="2.50" rx="0.4"/><rect class="sg" x="237.40" y="597.90" width="2.40" height="2.50" rx="0.4"/><rect class="sg" x="241.20" y="597.90" width="2.40" height="2.50" rx="0.4"/><rect class="sb" x="237.40" y="601.20" width="2.40" height="2.50" rx="0.4"/><rect class="sb" x="241.20" y="601.20" width="2.40" height="2.50" rx="0.4"/><rect class="sg" x="256.40" y="597.90" width="2.40" height="2.50" rx="0.4"/><rect class="sg" x="260.20" y="597.90" width="2.40" height="2.50" rx="0.4"/><rect class="sb" x="256.40" y="601.20" width="2.40" height="2.50" rx="0.4"/><rect class="sb" x="260.20" y="601.20" width="2.40" height="2.50" rx="0.4"/><rect class="sg" x="275.40" y="597.90" width="2.40" height="2.50" rx="0.4"/><rect class="sg" x="279.20" y="597.90" width="2.40" height="2.50" rx="0.4"/><rect class="sb" x="275.40" y="601.20" width="2.40" height="2.50" rx="0.4"/><rect class="sb" x="279.20" y="601.20" width="2.40" height="2.50" rx="0.4"/><rect class="sg" x="298.40" y="597.90" width="2.40" height="2.50" rx="0.4"/><rect class="sg" x="302.20" y="597.90" width="2.40" height="2.50" rx="0.4"/><rect class="sb" x="298.40" y="601.20" width="2.40" height="2.50" rx="0.4"/><rect class="sb" x="302.20" y="601.20" width="2.40" height="2.50" rx="0.4"/><rect class="sg" x="319.40" y="597.90" width="2.40" height="2.50" rx="0.4"/><rect class="sg" x="323.20" y="597.90" width="2.40" height="2.50" rx="0.4"/><rect class="sb" x="319.40" y="601.20" width="2.40" height="2.50" rx="0.4"/><rect class="sb" x="323.20" y="601.20" width="2.40" height="2.50" rx="0.4"/><rect class="sg" x="340.40" y="597.90" width="2.40" height="2.50" rx="0.4"/><rect class="sg" x="344.20" y="597.90" width="2.40" height="2.50" rx="0.4"/><rect class="sb" x="340.40" y="601.20" width="2.40" height="2.50" rx="0.4"/><rect class="sb" x="344.20" y="601.20" width="2.40" height="2.50" rx="0.4"/><rect class="sb" x="362.40" y="597.90" width="2.40" height="2.50" rx="0.4"/><rect class="sg" x="366.20" y="597.90" width="2.40" height="2.50" rx="0.4"/><rect class="sb" x="362.40" y="601.20" width="2.40" height="2.50" rx="0.4"/><rect class="sb" x="366.20" y="601.20" width="2.40" height="2.50" rx="0.4"/><line x1="1" y1="325.3" x2="126" y2="325.3" stroke="#8f8f8f" stroke-width="1.1"/><line x1="1" y1="376.4" x2="126" y2="376.4" stroke="#8f8f8f" stroke-width="1.1"/><line x1="1" y1="414.7" x2="126" y2="414.7" stroke="#8f8f8f" stroke-width="1.1"/><line x1="1" y1="453.0" x2="126" y2="453.0" stroke="#8f8f8f" stroke-width="1.1"/><line x1="1" y1="465.8" x2="126" y2="465.8" stroke="#8f8f8f" stroke-width="1.1"/><line x1="1" y1="516.9" x2="126" y2="516.9" stroke="#8f8f8f" stroke-width="1.1"/><line x1="1" y1="529.6" x2="126" y2="529.6" stroke="#8f8f8f" stroke-width="1.1"/><line x1="1" y1="555.2" x2="126" y2="555.2" stroke="#8f8f8f" stroke-width="1.1"/><line x1="1" y1="606.2" x2="126" y2="606.2" stroke="#8f8f8f" stroke-width="1.1"/><rect x="396.6" y="313.5" width="29" height="19.8" fill="#efefef"/><rect class="Lb" x="403.10" y="315.75" width="6.00" height="6.00" rx="1.2"/><rect class="Lb" x="411.60" y="315.75" width="6.00" height="6.00" rx="1.2"/><rect class="Lb" x="403.10" y="324.25" width="6.00" height="6.00" rx="1.2"/><rect class="Lb" x="411.60" y="324.25" width="6.00" height="6.00" rx="1.2"/><text x="430.0" y="328.1" font-family='"Liberation Sans", Arial, sans-serif' font-size="10" fill="#333">&gt;=10000</text><rect x="396.6" y="342.1" width="29" height="19.8" fill="#efefef"/><rect class="Lb" x="403.10" y="344.35" width="6.00" height="6.00" rx="1.2"/><rect class="Lg" x="411.60" y="344.35" width="6.00" height="6.00" rx="1.2"/><rect class="Lb" x="403.10" y="352.85" width="6.00" height="6.00" rx="1.2"/><rect class="Lb" x="411.60" y="352.85" width="6.00" height="6.00" rx="1.2"/><text x="431.6" y="355.8" font-family='"Liberation Sans", Arial, sans-serif' font-size="10" fill="#333">&gt;=5000 -&lt; 10000</text><rect x="396.6" y="367.0" width="29" height="19.8" fill="#efefef"/><rect class="Lg" x="403.10" y="369.25" width="6.00" height="6.00" rx="1.2"/><rect class="Lg" x="411.60" y="369.25" width="6.00" height="6.00" rx="1.2"/><rect class="Lb" x="403.10" y="377.75" width="6.00" height="6.00" rx="1.2"/><rect class="Lb" x="411.60" y="377.75" width="6.00" height="6.00" rx="1.2"/><text x="428.7" y="381.2" font-family='"Liberation Sans", Arial, sans-serif' font-size="10" fill="#333">&gt;=1000 -&lt; 5000</text><rect x="396.6" y="395.7" width="29" height="19.8" fill="#efefef"/><rect class="Lg" x="403.10" y="397.95" width="6.00" height="6.00" rx="1.2"/><rect class="Lg" x="411.60" y="397.95" width="6.00" height="6.00" rx="1.2"/><rect class="Lb" x="403.10" y="406.45" width="6.00" height="6.00" rx="1.2"/><rect class="Lg" x="411.60" y="406.45" width="6.00" height="6.00" rx="1.2"/><text x="432.2" y="408.3" font-family='"Liberation Sans", Arial, sans-serif' font-size="10" fill="#333">&gt;=500 -&lt; 1000</text><rect x="396.6" y="423.6" width="29" height="19.8" fill="#efefef"/><rect class="Lg" x="403.10" y="425.85" width="6.00" height="6.00" rx="1.2"/><rect class="Lg" x="411.60" y="425.85" width="6.00" height="6.00" rx="1.2"/><rect class="Lg" x="403.10" y="434.35" width="6.00" height="6.00" rx="1.2"/><rect class="Lg" x="411.60" y="434.35" width="6.00" height="6.00" rx="1.2"/><text x="428.7" y="436.7" font-family='"Liberation Sans", Arial, sans-serif' font-size="10" fill="#333">&lt;500</text><text transform="translate(6.6,292.8) scale(0.93,1)" font-family='"Liberation Sans", Arial, sans-serif' font-size="12.2" fill="#111" stroke="#111" stroke-width="0.25">C)</text></svg>
</body></html>
